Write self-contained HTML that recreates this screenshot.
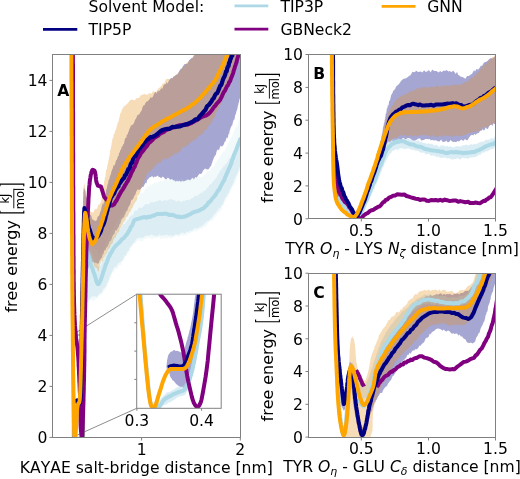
<!DOCTYPE html>
<html><head><meta charset="utf-8"><style>
html,body{margin:0;padding:0;background:#fff;overflow:hidden}
svg{display:block}
text{font-family:"DejaVu Sans","Liberation Sans",sans-serif;font-kerning:none;font-feature-settings:"kern" 0}
</style></head><body>
<svg width="520" height="479" viewBox="0 0 520 479">
<defs>
<clipPath id="cA"><rect x="52.5" y="54.5" width="188" height="383"/></clipPath>
<clipPath id="cB"><rect x="308.5" y="54.5" width="187" height="164.3"/></clipPath>
<clipPath id="cC"><rect x="308.5" y="273.2" width="187" height="164"/></clipPath>
<clipPath id="cI"><rect x="136.7" y="294.2" width="84.5" height="114.1"/></clipPath>
</defs>
<rect width="520" height="479" fill="#fff"/>
<g clip-path="url(#cA)">
<g stroke="#808080" stroke-width="0.9" fill="none">
<rect x="72.3" y="335" width="12.3" height="102.3"/>
<line x1="136.7" y1="294.2" x2="72.3" y2="335"/>
<line x1="136.7" y1="408.3" x2="72.3" y2="437.3"/>
</g>
<polygon points="80.0,329.8 80.0,329.0 80.1,328.9 80.1,326.2 80.1,325.1 80.2,324.1 80.2,321.6 80.2,321.4 80.2,320.5 80.3,319.8 80.3,316.3 80.3,315.8 80.4,313.8 80.4,314.9 80.4,313.3 80.5,309.9 80.5,311.7 80.5,310.3 80.6,308.1 80.6,306.7 80.6,304.0 80.7,302.3 80.7,302.7 80.7,299.9 80.7,299.1 80.8,298.0 80.8,296.0 80.8,296.2 80.9,294.8 80.9,294.8 80.9,292.6 81.0,291.7 81.0,290.1 81.0,289.4 81.1,287.5 81.1,285.7 81.1,286.8 81.2,285.5 81.2,283.8 81.2,282.2 81.2,279.7 81.3,278.2 81.3,277.1 81.3,275.2 81.4,276.2 81.4,273.8 81.4,274.0 81.5,271.3 81.5,271.9 81.5,270.4 81.5,266.5 81.6,265.9 81.6,267.0 81.6,264.4 81.7,264.8 81.7,261.7 81.7,259.5 81.8,260.0 81.8,259.3 81.8,256.5 81.8,254.7 81.9,254.3 81.9,255.1 81.9,253.2 82.0,250.0 82.0,249.2 82.0,247.4 82.1,246.0 82.1,247.1 82.1,243.8 82.1,243.8 82.2,242.1 82.2,240.0 82.2,240.5 82.2,237.3 82.3,237.6 82.3,234.7 82.3,234.4 82.4,232.4 82.4,231.3 82.4,232.3 82.4,230.5 82.5,227.7 82.5,228.3 82.5,224.9 82.5,224.2 82.6,224.5 82.6,222.5 82.6,219.6 82.6,221.2 82.6,217.4 82.7,216.3 82.7,216.7 82.7,214.1 82.7,212.7 82.8,210.8 82.8,209.6 82.8,210.0 82.9,207.7 82.9,207.6 82.9,205.6 83.0,204.7 83.0,205.0 83.0,202.3 83.0,201.4 83.1,201.1 83.1,197.6 83.2,196.3 83.2,197.5 83.3,196.0 83.3,192.9 83.4,191.5 83.4,192.0 83.5,191.4 83.8,187.3 84.0,188.0 84.6,189.3 84.8,189.8 85.0,190.5 85.2,190.8 85.5,191.9 85.7,196.2 86.0,195.2 86.3,198.0 86.6,197.8 86.9,200.9 87.1,201.4 87.4,201.7 87.6,202.6 87.8,205.6 88.1,204.8 88.4,206.5 88.6,208.9 88.9,211.0 89.3,211.6 89.6,211.9 90.0,215.3 90.6,214.6 91.2,215.6 91.8,217.7 92.4,219.6 93.7,220.1 95.0,221.0 96.3,220.4 96.9,219.8 97.5,217.1 98.2,216.2 98.8,216.3 99.4,215.1 100.0,212.5 100.6,211.2 101.2,209.5 101.7,206.6 102.3,204.8 102.8,203.2 103.3,204.5 103.8,202.3 104.3,201.5 104.7,196.7 105.1,197.0 105.3,195.3 105.5,194.9 105.7,192.3 106.0,193.3 106.2,189.1 106.4,189.3 106.7,188.7 106.9,188.0 107.2,186.3 107.5,184.9 107.8,184.0 108.2,183.2 108.5,180.1 108.9,179.9 109.2,179.4 109.6,178.1 110.0,175.4 110.4,175.4 110.8,174.4 111.2,172.3 111.6,171.3 112.1,169.4 112.5,168.9 113.0,167.8 113.5,165.0 114.0,165.6 114.5,165.6 115.0,164.2 115.5,162.6 116.0,160.4 116.7,160.0 117.4,158.0 118.0,156.1 118.6,156.0 119.1,152.3 119.7,153.2 120.2,149.7 120.7,150.3 121.3,148.7 121.8,146.6 122.4,146.8 122.9,144.9 123.5,144.0 124.0,143.7 124.6,140.3 125.1,138.2 125.7,137.9 126.2,137.9 126.7,135.2 127.1,133.9 127.5,135.1 128.0,133.2 128.4,131.3 128.9,131.6 129.4,128.6 130.0,128.5 130.7,125.8 131.5,125.2 132.3,125.1 133.2,124.2 134.1,122.7 135.0,119.8 135.8,119.1 136.7,116.9 137.5,115.0 138.3,114.8 139.1,114.5 139.9,113.2 140.8,111.4 141.6,110.8 142.5,107.3 143.4,105.6 144.4,105.2 145.4,103.3 146.4,101.8 147.5,101.2 148.5,100.6 149.6,98.9 150.6,97.2 151.7,97.8 152.7,97.3 153.7,94.7 154.7,92.7 155.7,91.8 156.8,93.8 157.8,90.3 158.9,91.6 160.0,90.2 161.2,88.3 162.4,88.7 163.7,85.0 165.0,84.1 165.8,84.3 166.7,82.1 167.5,83.8 168.8,80.7 170.0,79.2 171.2,77.7 172.4,78.4 173.5,76.6 174.7,76.1 175.8,75.1 176.8,74.5 177.8,74.0 178.8,72.1 180.5,68.9 181.9,68.3 183.2,66.1 184.6,64.1 186.1,64.1 187.6,63.4 189.1,60.2 190.5,59.1 191.7,57.9 192.8,57.7 193.9,55.7 195.0,54.4 196.2,53.2 197.5,50.4 198.1,50.5 198.7,49.7 199.2,46.0 199.6,47.5 200.0,45.7 200.3,42.4 200.7,42.0 201.0,41.1 201.4,40.6 201.6,37.7 201.8,37.1 202.1,36.8 202.3,35.3 202.6,34.6 202.8,31.8 203.1,31.0 203.3,28.2 203.6,28.4 203.8,27.3 204.1,25.3 204.3,24.3 204.6,21.5 204.8,22.5 205.0,21.5 250.0,20.1 249.9,21.7 249.9,21.6 249.8,23.9 249.7,26.8 249.6,27.7 249.6,27.5 249.5,28.6 249.4,31.3 249.3,32.8 249.3,33.7 249.2,34.2 249.1,34.6 249.1,35.1 249.0,38.4 248.9,39.4 248.9,41.7 248.8,40.9 248.7,42.3 248.6,45.4 248.6,46.1 248.5,48.0 248.4,49.1 248.4,49.2 248.3,48.8 248.2,50.6 248.1,52.1 248.0,54.1 248.0,54.9 247.9,57.3 247.8,56.8 247.7,58.9 247.6,61.6 247.6,60.6 247.5,61.2 247.4,65.5 247.3,66.1 247.2,68.0 247.1,69.3 247.0,69.4 246.9,70.8 246.8,70.2 246.7,71.9 246.6,72.3 246.4,73.7 246.3,75.0 246.2,76.3 246.1,77.4 246.0,78.8 245.8,82.3 245.5,83.3 245.3,84.0 245.1,84.6 244.9,85.9 244.6,87.9 244.1,90.2 243.6,90.6 243.1,92.5 242.3,92.8 241.5,95.6 241.0,94.8 240.5,97.4 240.0,98.1 239.6,99.0 239.3,100.3 238.9,102.4 238.5,103.2 238.2,105.1 237.8,106.1 237.5,108.4 237.1,109.4 236.8,110.4 236.4,111.5 236.0,113.2 235.6,115.1 235.2,114.6 234.8,117.6 234.4,119.8 234.0,119.4 233.5,120.3 233.1,121.7 232.6,123.4 232.1,126.1 231.6,125.6 231.1,127.0 230.6,127.8 230.1,130.1 229.6,130.5 229.1,134.5 228.6,133.6 228.0,136.8 227.4,138.3 226.7,137.4 226.0,139.4 225.3,141.8 224.6,141.7 223.9,144.3 222.8,145.7 221.8,146.8 220.7,145.4 219.7,147.9 218.9,150.4 218.0,149.2 217.4,150.1 216.7,151.1 215.8,155.1 214.9,155.7 214.0,157.6 213.5,158.7 213.1,160.0 212.6,160.7 212.2,163.0 211.7,163.5 211.2,165.8 210.0,167.1 208.6,169.2 207.0,169.4 205.1,168.6 203.1,170.4 201.9,173.2 200.7,174.1 199.4,173.8 198.1,175.6 196.7,177.8 195.3,176.9 194.0,179.4 192.6,177.8 191.3,179.0 190.0,180.5 188.7,179.8 187.4,179.8 186.1,180.5 184.8,180.9 183.5,181.4 182.2,180.8 180.9,182.0 179.6,180.7 178.3,181.5 177.0,180.8 175.7,181.8 174.4,180.4 173.1,180.2 171.8,179.0 170.5,179.8 169.2,178.8 167.9,177.6 166.5,179.2 165.2,179.0 163.9,177.4 162.6,176.6 161.3,178.3 160.0,177.3 158.6,176.7 157.3,175.5 156.0,177.0 154.7,176.4 153.4,177.8 152.1,175.9 150.9,177.0 149.8,177.3 148.6,178.5 147.9,179.8 147.2,179.6 146.4,183.6 145.8,182.7 145.1,183.4 144.4,184.8 143.4,187.0 142.5,186.7 140.7,188.9 139.1,190.0 137.7,189.3 136.3,191.6 135.2,195.0 134.2,196.0 133.3,198.4 132.8,199.4 132.2,199.4 131.5,200.0 130.9,201.5 130.2,204.7 129.5,205.0 129.0,206.4 128.4,206.9 127.9,208.5 127.3,210.7 126.6,211.4 126.0,211.3 125.4,214.0 124.8,214.8 124.3,216.3 123.7,218.1 123.0,217.3 122.3,218.7 121.7,219.0 121.0,221.1 120.3,223.7 119.6,224.1 118.9,226.5 118.2,227.7 117.5,228.6 116.9,230.2 116.2,230.8 115.5,229.8 114.8,232.7 114.1,234.5 113.5,234.5 112.8,235.6 112.1,237.6 111.4,239.5 110.7,241.1 110.0,241.3 109.3,242.0 108.7,244.2 108.0,246.1 107.3,247.1 106.7,247.2 106.2,248.1 105.6,250.5 105.0,249.8 104.4,250.5 103.8,252.3 103.1,255.1 102.6,253.9 102.1,256.9 101.6,258.1 100.9,258.2 100.2,259.8 99.5,260.6 98.8,263.3 97.3,263.8 95.8,262.6 94.4,263.3 93.0,261.3 91.7,263.4 90.4,261.5 89.2,263.1 88.9,266.9 88.6,268.5 88.3,267.8 88.0,270.4 87.9,271.2 87.8,272.5 87.6,272.8 87.5,275.3 87.4,277.2 87.3,278.3 87.2,278.0 87.0,278.3 86.9,281.0 86.8,283.8 86.8,285.0 86.7,285.1 86.6,284.5 86.5,285.6 86.4,287.6 86.4,289.2 86.3,291.8 86.2,291.4 86.1,291.8 86.0,296.0 85.9,296.7 85.9,296.1 85.8,297.9 85.7,300.9 85.7,299.6 85.6,303.4 85.5,303.1 85.5,305.8 85.4,305.5 85.3,306.1 85.3,307.0 85.2,309.0 85.1,308.9 85.0,312.0 85.0,312.3 84.9,313.3 84.8,313.8 84.8,317.1 84.7,316.7 84.6,319.1 84.6,318.9 84.5,322.3 84.4,322.3 84.3,323.6 84.3,324.2 84.2,326.4 84.1,327.3 84.1,329.8 84.0,328.5 83.9,331.2 83.9,333.4 83.8,333.6 83.7,334.4 83.7,335.2 83.6,336.0 83.5,339.0 83.5,340.2 83.4,340.4 83.3,341.6 83.2,343.8 83.2,346.0 83.1,347.1 83.0,347.6 83.0,346.5 82.9,348.9 82.8,350.4 82.8,352.1 82.7,352.8 82.6,354.0 82.6,356.6 82.5,355.8 82.4,356.7 82.4,360.0 82.3,359.6 82.2,362.3 82.2,362.6 82.1,363.3 82.0,365.4 82.0,365.7 81.9,369.7 81.8,371.0 81.8,369.4 81.7,372.0 81.6,374.5 81.6,373.0 81.5,374.1 81.4,378.0 81.4,377.8 81.3,378.8 81.2,381.2 81.2,380.4 81.1,384.0 81.0,382.8 81.0,386.8 80.9,385.6 80.8,387.7 80.8,388.0 80.7,390.9 80.7,391.8 80.6,393.2 80.5,394.7 80.5,396.3 80.4,395.8 80.3,397.4 80.3,397.5 80.2,399.1 80.1,402.1 80.1,403.3 80.0,403.9" fill="#000080" fill-opacity="0.35" stroke="none"/>
<polygon points="85.0,259.2 85.2,259.0 85.4,257.4 85.7,256.4 85.9,252.7 86.1,251.3 86.3,249.6 86.6,248.3 86.9,248.4 87.4,245.2 88.0,245.1 89.5,244.0 90.4,245.0 91.4,246.2 92.3,248.5 93.3,248.8 95.0,248.4 96.4,250.2 97.6,250.6 98.8,253.4 100.0,253.0 101.2,252.0 102.4,250.6 103.7,248.3 104.3,247.7 105.0,245.9 105.7,242.6 106.4,242.9 106.9,240.5 107.3,240.1 107.8,238.2 108.3,236.4 108.9,234.9 109.4,233.7 110.0,232.0 110.7,230.1 111.3,231.0 112.1,229.7 112.8,229.1 113.6,226.9 114.4,225.2 115.3,224.5 116.2,221.3 117.1,221.8 118.0,219.8 118.9,217.7 119.9,216.5 120.8,216.3 121.8,214.2 122.6,213.9 123.3,213.4 124.1,211.7 124.9,209.9 125.7,210.1 126.5,208.2 127.4,207.2 128.2,206.1 129.0,205.7 129.8,203.8 130.6,204.7 131.4,204.7 132.4,201.8 133.3,201.8 134.3,201.4 135.5,197.3 136.7,196.3 137.7,197.5 138.8,196.6 139.7,195.1 140.7,192.7 141.6,192.6 142.6,193.2 143.4,192.3 144.3,191.1 145.8,187.4 146.6,188.6 147.5,186.2 148.8,186.5 150.0,183.8 151.2,186.0 152.3,184.3 153.5,184.2 154.9,182.1 156.4,182.9 157.8,182.3 159.3,182.0 160.8,180.8 162.3,181.6 163.8,180.1 165.2,179.6 166.7,178.9 168.1,180.5 169.5,178.6 170.9,178.8 172.3,178.4 173.7,180.3 175.0,180.1 176.4,180.1 177.8,178.5 179.2,179.9 180.6,179.6 182.0,178.7 183.4,178.4 184.9,181.4 186.3,178.5 187.8,178.9 189.2,178.6 190.7,179.5 192.2,177.6 193.7,178.6 195.1,178.0 196.5,179.2 197.7,176.2 199.0,176.8 200.2,177.0 201.7,177.8 203.2,175.7 204.4,174.7 205.6,174.5 206.7,172.3 207.8,170.6 208.9,171.0 210.0,171.3 211.1,169.6 212.1,167.0 213.1,167.1 214.1,166.4 215.1,163.2 216.0,163.0 217.0,160.9 218.0,159.2 219.0,157.9 220.0,156.3 221.0,155.3 222.0,152.9 222.7,153.0 223.3,151.0 224.0,152.2 224.7,150.5 225.3,147.5 226.0,148.9 226.7,145.8 227.4,145.4 228.0,144.4 228.7,142.3 229.4,140.8 230.1,139.9 230.8,137.6 231.5,138.5 232.1,134.7 232.8,135.7 233.4,132.4 234.0,131.4 234.5,130.5 235.1,128.1 235.6,127.3 236.1,126.9 236.6,126.0 237.1,126.3 237.6,125.6 238.1,121.4 238.5,121.8 239.0,119.3 239.5,120.2 240.0,117.4 240.4,118.1 240.8,115.8 241.2,113.3 241.6,111.8 242.1,111.2 242.5,111.9 242.9,108.3 243.4,108.1 243.8,106.5 244.1,105.2 244.5,105.5 244.9,102.4 245.5,102.4 246.0,100.5 246.0,151.7 245.5,155.1 245.0,155.7 244.5,156.3 244.0,159.0 243.5,159.8 243.1,160.6 242.6,160.7 242.2,164.6 241.8,164.4 241.3,166.9 240.9,167.1 240.4,169.8 240.0,170.2 239.6,171.6 239.1,173.2 238.7,171.8 238.2,172.5 237.8,176.6 237.3,175.9 236.8,177.3 236.4,178.3 235.8,181.0 235.3,182.3 234.8,183.6 234.3,185.0 233.7,183.9 233.1,187.6 232.5,185.6 231.9,189.0 231.4,190.2 230.8,189.9 230.3,193.4 229.7,192.3 229.2,194.2 228.6,195.3 228.0,197.4 227.3,197.6 226.7,197.4 226.1,200.4 225.5,201.0 224.8,201.4 224.2,203.1 223.5,205.9 222.8,204.7 222.1,208.6 221.4,209.3 220.7,210.5 220.0,212.0 219.3,211.3 218.5,213.6 217.8,212.1 217.0,214.5 216.3,216.7 215.5,216.9 214.5,216.0 213.5,219.6 212.5,221.0 211.5,220.6 210.4,220.9 209.3,222.4 208.2,222.2 207.2,224.8 206.0,226.0 204.9,227.7 203.7,226.7 202.6,228.5 201.3,229.2 200.1,228.5 198.8,230.6 197.6,229.6 196.2,232.0 194.8,230.7 193.5,231.5 192.1,231.7 190.7,233.1 189.4,233.3 188.0,233.4 186.7,235.5 185.5,234.6 184.2,235.5 183.0,235.5 181.8,235.2 180.4,235.2 179.0,237.3 177.7,236.0 176.4,235.9 175.2,236.6 174.0,237.0 172.2,237.6 170.5,239.2 169.2,237.1 168.0,238.3 166.7,239.3 165.3,237.4 163.8,238.9 162.4,238.1 160.9,239.4 159.4,237.4 157.9,237.3 156.4,238.7 155.0,237.6 153.6,238.3 151.8,238.9 150.0,237.8 148.8,237.9 147.5,237.5 145.8,239.3 144.3,238.5 142.6,241.3 140.7,240.9 138.8,240.2 136.7,241.2 135.5,244.1 134.3,243.1 133.6,244.0 132.8,244.8 132.1,245.5 131.4,247.1 130.7,248.5 130.0,251.4 129.4,250.4 128.7,252.4 128.1,254.7 127.4,253.7 126.7,253.9 126.1,256.1 125.4,256.7 124.7,258.5 124.0,260.1 123.3,259.8 122.5,261.3 121.8,262.2 121.0,265.3 120.2,265.1 119.4,265.3 118.4,266.4 117.3,269.0 116.4,269.1 115.4,267.8 114.4,270.9 113.4,272.7 112.7,272.2 112.0,273.3 111.3,277.5 110.8,278.5 110.2,277.7 109.7,279.7 109.2,279.7 108.7,282.5 108.1,283.3 107.6,284.6 107.1,285.8 106.4,287.4 105.7,289.2 105.0,289.9 104.3,289.7 103.6,292.1 102.9,291.8 101.8,295.0 100.7,294.0 99.7,295.8 98.7,296.1 97.7,299.2 96.7,297.7 94.9,299.9 93.1,301.3 91.5,299.6 90.0,300.8 89.3,301.0 88.5,303.1 87.8,305.7 87.1,304.6 85.9,306.4 85.4,306.6 85.0,305.3 84.9,302.5 84.9,303.1 84.8,302.4 84.8,300.3 84.7,298.5 84.7,299.0 84.6,295.8 84.7,296.5 84.7,292.8 84.7,291.2 84.7,290.7 84.7,288.8 84.7,289.3 84.7,286.5 84.7,286.9 84.7,285.3 84.7,282.8 84.7,283.2 84.7,282.5 84.7,279.5 84.7,278.6 84.8,279.1 84.8,275.7 84.8,274.2 84.8,275.0 84.8,272.6 84.8,272.3 84.9,269.8 84.9,269.7 84.9,268.7 84.9,265.8 84.9,264.5 84.9,265.4 85.0,263.1 85.0,262.0 85.0,258.7" fill="#add8e6" fill-opacity="0.16" stroke="none"/>
<polygon points="86.0,261.1 86.3,261.1 86.7,259.6 87.0,259.0 87.4,256.0 87.7,254.7 88.1,254.6 88.5,253.2 88.8,251.1 90.0,250.4 91.2,251.3 91.6,253.3 92.0,252.9 92.4,254.3 92.9,257.3 93.3,257.3 93.7,258.4 94.4,261.2 95.0,262.3 96.2,263.0 97.5,265.5 98.8,266.6 100.0,265.2 101.2,265.0 101.8,262.5 102.4,261.9 103.0,259.7 103.7,258.5 104.3,258.8 105.0,255.8 105.5,256.0 105.9,253.4 106.4,252.6 106.9,251.9 107.3,250.0 107.8,247.3 108.3,247.0 108.9,245.7 109.4,243.2 110.0,241.6 110.7,242.2 111.3,240.0 112.1,238.1 112.8,237.6 113.6,235.9 114.4,236.2 115.3,234.5 116.2,232.5 117.1,233.1 118.0,230.3 118.9,229.8 119.9,228.1 120.8,228.7 121.8,226.1 122.6,226.1 123.3,224.2 124.1,224.2 124.9,223.7 125.7,222.4 126.5,221.2 127.4,220.3 128.2,219.2 129.0,218.6 129.8,216.5 130.6,216.5 131.4,214.9 132.4,215.4 133.3,214.6 134.3,211.5 135.5,210.5 136.7,210.8 137.7,209.7 138.8,207.5 140.7,207.9 142.6,207.4 144.3,205.1 145.8,204.1 147.5,203.9 148.8,204.4 150.0,202.4 151.2,202.2 152.3,201.7 153.5,202.4 154.9,201.8 156.4,200.9 157.8,201.0 159.3,199.9 160.8,200.3 162.3,201.6 163.8,200.5 165.2,199.6 166.7,201.0 168.1,199.7 169.4,199.5 170.8,199.1 172.2,199.6 173.5,199.9 174.9,200.2 176.3,201.9 177.7,200.6 179.0,200.8 180.5,201.5 181.9,202.1 183.4,200.5 184.6,201.2 185.8,199.9 187.0,200.0 188.2,199.7 189.5,199.9 190.8,198.9 192.1,197.7 193.4,197.9 194.6,196.1 195.9,195.4 197.1,196.2 198.4,194.5 199.4,194.4 200.5,192.6 201.5,193.4 202.6,192.1 203.7,190.4 204.7,191.3 205.8,189.4 207.1,188.0 208.3,186.7 209.5,185.1 210.6,184.1 211.4,184.4 212.2,182.1 213.0,181.4 213.9,180.7 214.7,179.8 215.6,178.3 216.4,178.0 217.3,175.5 218.1,174.5 218.8,173.6 219.4,171.9 220.1,171.1 220.7,169.9 221.4,170.3 222.1,167.9 222.8,168.1 223.5,166.0 224.3,166.0 225.1,165.0 225.9,163.2 226.7,163.5 227.6,161.7 228.4,160.4 229.3,158.0 230.2,157.8 231.0,156.4 231.8,155.8 232.6,155.8 233.4,154.6 234.3,151.4 235.1,151.7 236.0,151.0 236.8,148.7 237.6,146.2 238.0,146.9 238.4,144.7 239.1,143.8 239.5,142.2 240.0,140.8 240.5,139.8 241.0,136.5 241.5,137.0 242.1,134.3 242.7,132.5 243.2,131.6 243.8,130.7 244.3,128.0 244.9,127.7 245.4,127.1 246.0,125.0 246.0,150.4 245.5,150.7 245.0,153.9 244.5,154.0 244.0,154.6 243.5,158.2 243.1,157.8 242.6,160.7 242.2,161.8 241.8,161.8 241.3,163.0 240.9,164.6 240.4,165.4 240.0,166.6 239.4,168.1 238.8,169.7 238.2,171.3 237.8,172.0 237.3,174.3 236.8,174.4 236.4,175.5 235.8,175.8 235.3,179.0 234.8,178.4 234.3,179.8 233.7,182.6 233.1,183.1 232.5,184.8 231.9,186.2 231.4,187.0 230.8,187.0 230.3,189.2 229.7,189.0 229.2,191.8 228.6,192.8 228.0,194.5 227.3,193.7 226.7,197.1 226.1,196.6 225.5,197.4 224.8,199.0 224.2,200.5 223.5,202.3 222.8,204.3 222.1,205.1 221.4,204.9 220.7,207.0 220.0,207.9 219.3,207.7 218.5,209.4 217.8,210.5 217.0,210.5 216.3,212.4 215.5,213.5 214.7,213.6 213.9,214.8 213.1,216.6 212.3,217.0 211.5,218.0 210.4,219.1 209.3,220.6 208.2,221.1 207.2,220.9 206.0,223.3 204.9,222.3 203.7,225.0 202.6,224.9 201.3,226.9 200.1,226.6 198.8,227.4 197.6,228.6 196.2,228.2 194.8,228.2 193.5,228.8 192.1,231.2 190.7,230.3 189.4,231.3 188.0,232.4 186.7,231.1 185.5,233.0 184.2,233.6 183.0,232.4 181.8,232.4 180.4,233.5 179.0,234.7 177.7,234.8 176.4,234.3 175.2,234.5 174.0,235.5 172.2,236.2 170.5,235.0 169.2,236.6 168.0,234.9 166.7,234.7 165.3,235.6 163.8,235.3 162.4,235.2 160.9,235.9 159.4,234.2 157.9,236.2 156.4,236.1 155.0,235.8 153.6,235.8 151.8,234.5 150.0,235.2 148.8,235.7 147.5,235.7 145.8,235.6 144.3,236.5 142.6,238.0 140.7,237.8 138.8,237.5 136.7,238.7 135.5,240.2 134.3,242.3 133.6,243.0 132.8,244.4 132.1,244.6 131.4,245.9 130.7,247.6 130.0,246.7 129.4,247.7 128.7,251.0 128.1,250.8 127.4,251.9 126.7,252.2 126.1,255.1 125.4,256.1 124.7,255.1 124.0,256.8 123.3,258.9 122.5,260.5 121.8,261.3 120.6,261.5 119.4,263.1 118.4,263.0 117.3,264.7 116.4,266.3 115.4,267.4 114.4,266.7 113.4,268.9 112.7,270.0 112.0,272.8 111.3,272.8 110.8,275.3 110.2,275.3 109.7,276.4 109.2,278.0 108.7,280.7 108.1,280.2 107.6,282.2 107.1,283.3 106.4,285.0 105.7,287.1 105.0,287.6 104.3,287.6 103.6,288.7 102.9,289.7 101.8,292.7 100.7,292.9 99.7,293.2 98.7,295.1 97.7,295.8 96.7,297.1 94.8,296.2 93.1,296.5 91.4,296.5 90.0,299.1 88.7,299.4 87.6,302.7 86.7,303.2 86.3,300.9 86.0,300.3 86.0,299.8 85.9,297.6 85.9,295.9 85.8,295.1 85.8,292.7 85.7,292.2 85.7,291.1 85.7,289.3 85.7,288.7 85.7,288.4 85.7,285.5 85.7,285.6 85.7,284.5 85.7,283.2 85.8,280.5 85.8,279.3 85.8,278.1 85.8,277.8 85.8,275.7 85.8,274.2 85.9,274.8 85.9,273.1 85.9,271.5 85.9,270.7 85.9,267.3 85.9,268.3 86.0,265.1 86.0,265.2 86.0,262.1 86.0,263.1" fill="#add8e6" fill-opacity="0.32" stroke="none"/>
<polygon points="81.2,381.5 81.2,377.1 81.2,378.1 81.3,374.9 81.3,376.2 81.3,371.7 81.3,373.1 81.3,371.2 81.3,370.5 81.4,369.6 81.4,365.9 81.4,365.0 81.4,364.8 81.4,362.2 81.4,360.8 81.5,359.4 81.5,360.2 81.5,358.9 81.5,357.4 81.5,354.2 81.5,355.2 81.6,352.5 81.6,350.3 81.6,349.8 81.6,348.3 81.6,346.0 81.6,346.3 81.7,344.4 81.7,343.8 81.7,343.8 81.7,341.6 81.7,339.6 81.7,339.9 81.8,339.0 81.8,336.2 81.8,336.4 81.8,332.2 81.8,331.4 81.9,330.2 81.9,331.5 81.9,329.4 81.9,328.3 81.9,325.7 82.0,325.1 82.0,325.1 82.0,321.4 82.0,320.2 82.1,318.7 82.1,318.9 82.1,318.8 82.1,316.7 82.1,315.0 82.2,314.0 82.2,311.8 82.2,313.0 82.2,309.9 82.3,308.2 82.3,307.2 82.3,307.6 82.3,304.8 82.4,305.4 82.4,302.3 82.4,301.4 82.4,298.9 82.4,300.3 82.5,298.7 82.5,296.4 82.5,293.9 82.5,293.8 82.6,292.2 82.6,292.4 82.6,291.4 82.6,289.6 82.6,286.9 82.7,284.9 82.7,286.4 82.7,285.4 82.7,281.7 82.7,281.6 82.7,280.3 82.8,280.7 82.8,276.5 82.8,275.3 82.8,276.6 82.8,274.5 82.9,272.9 82.9,272.6 82.9,270.8 82.9,269.9 82.9,267.3 83.0,265.5 83.0,264.0 83.0,263.8 83.0,263.5 83.0,261.4 83.0,260.0 83.1,259.6 83.1,258.6 83.1,257.0 83.1,254.8 83.1,255.2 83.1,253.9 83.2,252.9 83.2,251.6 83.2,247.5 83.2,248.3 83.2,246.0 83.2,244.8 83.3,243.9 83.3,241.4 83.3,240.5 83.3,241.6 83.3,238.2 83.3,238.9 83.3,236.9 83.3,234.5 83.3,233.3 83.4,233.0 83.4,232.1 83.4,229.8 83.4,227.7 83.4,226.8 83.4,227.8 83.4,226.2 83.4,223.0 83.4,224.1 83.4,222.0 83.4,220.0 83.4,220.6 83.4,216.9 83.5,215.6 83.5,215.2 83.5,215.2 83.5,213.4 83.5,212.0 83.5,212.1 83.5,209.3 83.5,209.3 83.5,205.5 83.5,206.7 83.5,203.4 83.5,203.7 83.5,203.0 83.6,201.1 83.6,199.6 83.6,198.2 83.6,197.6 83.6,195.1 83.6,193.3 83.7,193.0 83.7,191.5 83.7,188.9 83.7,188.8 83.8,187.3 83.8,184.9 84.0,185.0 84.1,183.6 84.5,183.2 84.8,186.4 85.0,188.4 85.2,189.0 85.5,189.7 85.8,190.9 86.0,192.0 86.2,193.8 86.4,197.5 86.6,195.9 86.8,200.1 87.0,200.8 87.3,202.5 87.6,202.0 88.0,205.5 88.4,205.3 88.9,208.1 89.8,210.6 90.9,211.9 92.0,212.1 93.2,213.1 94.5,210.1 95.8,208.4 97.0,209.2 98.2,205.1 99.3,204.7 100.4,202.6 100.9,202.6 101.4,199.6 101.7,198.9 102.0,197.3 102.2,195.9 102.4,194.6 102.6,193.3 102.8,192.5 102.9,190.7 103.1,189.4 103.3,189.7 103.4,188.5 103.6,184.9 103.8,185.6 104.1,181.0 104.3,180.5 104.5,181.0 104.8,177.3 105.0,177.6 105.3,177.4 105.5,175.0 105.8,173.3 106.1,170.2 106.5,169.9 106.7,168.7 107.0,168.6 107.2,166.1 107.4,166.3 107.7,163.8 107.9,163.3 108.2,162.5 108.4,159.4 108.7,160.7 108.9,157.8 109.1,156.7 109.4,157.1 109.6,154.6 109.9,153.2 110.1,151.0 110.3,149.8 110.6,150.2 110.8,148.2 111.0,147.4 111.3,146.2 111.5,144.9 111.7,142.6 112.0,143.1 112.2,140.5 112.6,137.9 113.0,138.5 113.4,137.2 113.8,133.3 114.3,134.6 114.7,132.7 115.2,130.2 115.7,129.9 116.2,129.5 116.7,125.6 117.1,125.9 117.5,123.2 117.8,121.6 118.2,122.7 118.6,121.3 119.0,118.7 119.5,117.6 119.9,114.9 120.3,113.5 120.8,112.8 121.2,112.2 121.7,110.6 122.4,108.5 123.1,107.7 123.9,105.9 124.6,106.2 126.2,104.7 128.0,102.9 130.0,100.2 132.2,99.5 134.5,100.6 136.7,97.9 138.8,98.0 140.9,95.3 142.9,94.6 145.0,94.1 147.1,94.9 149.3,93.0 151.4,93.7 153.4,91.1 155.2,92.2 156.9,91.2 158.4,88.6 160.0,87.2 160.8,86.3 161.5,86.1 162.3,84.0 163.0,83.0 163.7,83.8 164.5,83.1 166.0,78.9 167.7,79.1 169.5,79.1 171.2,79.6 172.9,77.6 174.4,76.3 175.9,75.5 177.4,74.0 178.8,72.2 180.3,70.4 181.7,69.6 183.1,65.7 184.6,66.6 186.1,63.3 187.6,62.3 189.1,60.9 190.5,59.9 191.7,58.7 192.8,57.4 193.8,55.1 194.9,53.6 196.1,52.8 197.4,52.1 198.1,49.2 198.7,46.9 199.1,48.4 199.6,47.4 200.0,46.1 200.3,44.0 200.7,41.9 201.0,39.3 201.4,40.6 201.6,37.9 201.9,35.6 202.1,36.0 202.3,32.9 202.6,32.8 202.8,32.3 203.1,31.5 203.3,28.7 203.6,26.7 203.8,25.8 204.1,25.9 204.3,22.3 204.6,21.3 204.8,20.7 205.0,21.4 246.0,19.0 245.8,20.3 245.6,21.8 245.5,24.1 245.3,26.4 245.1,26.3 244.9,27.5 244.7,27.8 244.5,30.3 244.3,31.2 244.0,32.0 243.8,33.3 243.6,35.7 243.4,37.4 243.2,37.5 243.0,39.3 242.8,42.2 242.5,41.5 242.2,42.7 242.0,44.0 241.8,45.5 241.5,46.7 241.2,50.1 241.0,49.6 240.8,50.7 240.4,54.2 240.0,54.3 239.6,56.0 239.3,56.5 238.6,59.1 237.8,62.5 237.4,63.9 237.0,65.5 236.5,66.5 236.1,67.6 235.6,69.2 235.1,69.5 234.6,72.7 234.1,74.4 233.5,75.9 233.0,75.7 232.4,76.2 231.8,78.0 231.2,78.9 230.6,81.9 230.0,84.9 229.3,84.0 228.7,87.5 228.0,87.8 227.3,91.1 226.6,90.9 226.1,93.5 225.6,92.2 225.1,93.0 224.5,96.5 224.0,98.1 223.5,98.3 222.8,98.8 222.0,100.2 221.2,103.8 220.5,105.1 219.8,104.2 219.0,107.8 218.2,108.4 217.5,111.5 216.8,110.9 216.0,112.4 215.3,114.9 214.6,117.4 213.9,118.2 213.2,117.8 212.5,120.3 211.8,122.5 210.9,122.9 210.0,124.8 208.9,125.2 207.8,127.0 206.6,129.2 205.4,130.5 204.1,130.7 202.8,134.0 201.8,133.5 200.9,134.2 200.0,136.3 199.0,134.4 198.0,137.8 197.1,137.2 196.0,139.9 195.0,139.6 194.0,140.3 192.9,139.9 191.8,143.0 190.8,141.5 189.7,144.9 188.7,143.0 187.6,146.4 186.6,145.6 185.5,147.7 184.5,147.0 183.4,146.7 182.4,147.5 181.3,148.6 180.3,151.9 179.2,150.9 178.1,152.4 177.1,152.1 176.0,154.9 175.0,152.5 174.0,154.8 172.9,156.0 171.9,155.5 170.3,156.9 168.7,158.3 167.2,158.0 165.6,160.5 164.6,158.4 163.5,159.4 162.5,159.5 161.4,161.3 160.3,163.2 159.3,162.2 158.2,163.6 157.0,163.6 155.9,165.3 154.9,167.6 153.8,166.1 152.8,169.0 151.8,168.8 150.9,170.9 150.0,171.9 149.2,172.6 148.5,172.0 147.7,172.7 147.1,174.0 146.5,175.2 145.9,176.7 145.3,178.7 144.7,179.2 144.2,180.5 143.6,184.0 143.1,182.6 142.5,185.8 142.0,186.6 141.5,186.4 141.0,187.5 140.5,191.3 140.0,192.0 139.6,193.8 139.1,194.2 138.6,196.1 138.1,194.5 137.5,196.1 136.9,200.0 136.3,200.8 135.7,201.8 135.2,201.7 134.6,203.5 134.0,203.4 133.4,205.5 132.7,207.5 132.0,208.1 131.4,208.9 130.7,211.3 130.0,211.9 129.3,212.7 128.6,214.0 128.0,215.7 127.3,216.8 126.7,216.9 126.0,217.1 125.4,219.7 124.7,221.7 124.1,220.2 123.5,222.9 122.9,222.1 122.2,226.0 121.6,224.5 121.0,227.4 120.4,227.8 119.7,228.4 119.1,230.8 118.5,232.2 117.9,232.5 117.2,232.9 116.6,234.5 116.0,235.7 115.4,237.8 114.7,237.3 114.1,239.0 113.4,239.2 112.7,242.6 112.1,244.0 111.4,244.1 110.8,244.8 110.1,247.3 109.5,248.3 108.9,249.3 108.2,248.6 107.5,251.3 106.7,252.7 106.0,254.3 105.4,255.0 104.7,256.4 104.1,257.4 103.3,258.2 102.5,261.9 101.8,260.2 101.1,261.6 100.5,263.3 100.0,264.4 99.4,265.3 99.2,268.0 99.1,268.4 98.8,271.2 98.3,271.4 97.8,270.8 97.2,268.8 96.5,268.1 95.7,267.5 94.8,267.1 93.9,265.2 93.0,261.2 92.6,261.9 92.2,259.5 91.8,257.1 91.5,255.8 90.7,254.6 90.0,253.1 89.2,253.1 88.4,255.8 88.1,258.3 87.7,258.8 87.5,258.5 87.2,259.2 87.0,260.5 86.9,263.2 86.7,265.4 86.6,265.9 86.4,265.8 86.3,268.3 86.2,268.9 86.1,270.1 86.0,274.0 85.9,274.1 85.9,273.7 85.8,275.5 85.7,277.1 85.6,279.6 85.6,279.3 85.5,282.5 85.4,284.5 85.3,285.1 85.2,284.6 85.2,288.6 85.1,289.0 85.0,288.4 84.9,290.1 84.9,291.2 84.8,292.5 84.7,294.2 84.6,297.4 84.6,298.1 84.5,299.8 84.4,301.6 84.4,301.4 84.3,302.0 84.2,303.5 84.2,305.5 84.1,306.3 84.1,307.0 84.0,308.3 83.9,309.1 83.9,310.1 83.8,311.0 83.7,313.8 83.7,315.5 83.6,316.3 83.5,318.7 83.5,318.9 83.4,321.6 83.4,321.4 83.3,323.8 83.3,322.3 83.2,325.8 83.2,327.0 83.1,326.2 83.1,328.7 83.0,329.4 82.9,330.2 82.9,331.7 82.8,334.0 82.8,336.1 82.7,337.5 82.7,339.3 82.6,337.6 82.6,339.7 82.5,343.1 82.5,343.4 82.5,343.9 82.4,344.9 82.4,347.5 82.3,347.0 82.3,348.4 82.2,349.4 82.2,350.8 82.1,353.1 82.1,353.7 82.1,353.6 82.0,356.8 82.0,358.5 81.9,360.0 81.9,359.1 81.9,362.6 81.8,363.3 81.8,362.9 81.7,365.5 81.7,364.8 81.6,366.6 81.6,367.7 81.6,368.0 81.5,371.2 81.5,371.3 81.4,373.9 81.4,374.4 81.3,375.9 81.3,377.1 81.2,378.6 81.2,379.6" fill="#e68c14" fill-opacity="0.3" stroke="none"/>
<polyline points="84.5,238.5 84.8,239.3 85.1,241.5 85.6,245.5 86.0,246.1 86.3,247.5 86.7,249.9 87.2,251.2 87.7,253.7 88.2,254.8 88.8,257.6 89.3,258.8 89.9,260.9 90.4,263.1 90.9,264.5 91.5,266.5 92.0,267.8 92.6,268.6 93.1,271.2 93.6,272.3 94.6,274.8 95.4,277.3 96.2,280.7 96.9,282.5 97.7,284.0 98.5,283.9 99.2,283.3 100.0,281.3 100.9,279.5 101.8,276.9 102.3,275.0 102.8,274.2 103.3,271.8 103.8,270.6 104.4,269.1 105.0,267.0 105.7,264.5 106.4,263.5 107.2,261.4 108.0,258.9 108.8,256.8 109.7,255.5 110.5,253.3 111.3,252.7 112.8,249.7 114.3,247.6 115.9,245.6 117.6,244.0 119.6,242.3 121.8,239.6 122.9,238.6 124.0,237.8 126.0,235.3 126.9,234.3 127.8,233.0 128.6,231.4 129.4,230.3 130.1,228.8 130.8,226.9 132.2,225.6 133.2,222.9 133.8,221.3 134.7,219.8 136.4,219.3 139.2,218.6 141.0,217.8 142.7,217.5 144.6,217.0 146.5,217.8 148.3,216.7 150.0,216.9 151.5,216.2 153.1,215.7 154.6,215.3 156.1,214.5 157.5,213.9 158.9,214.0 161.7,213.9 164.3,213.8 166.7,213.7 169.1,214.9 171.7,214.7 174.6,215.6 176.1,216.4 177.6,216.9 179.1,216.5 180.6,217.2 183.4,216.8 185.8,216.2 187.9,215.2 190.0,214.4 192.2,212.9 194.7,211.7 197.3,211.2 200.0,210.1 201.3,209.1 202.6,208.8 204.0,207.8 205.3,206.4 206.7,205.4 208.1,202.9 209.5,202.0 210.8,200.7 211.9,199.1 213.0,197.6 214.6,196.3 215.8,194.4 216.8,192.6 218.0,190.5 219.3,189.4 220.7,186.4 222.1,183.7 222.8,182.4 223.5,181.0 224.3,180.1 225.0,177.7 225.8,176.0 226.6,174.0 227.4,172.5 228.2,170.3 229.0,168.5 229.8,167.0 230.6,165.1 231.4,163.0 231.9,160.6 232.4,159.5 233.0,158.6 233.5,156.2 234.0,155.0 234.5,153.9 235.3,151.8 236.0,150.3 236.7,148.5 237.5,146.3 238.2,144.4 238.9,142.6 239.5,141.2 240.1,139.5 241.0,138.2" fill="none" stroke="#add8e6" stroke-width="4.0" stroke-linejoin="round" stroke-linecap="butt" />
<polyline points="72.9,40.4 72.9,42.0 72.9,43.4 72.9,44.1 72.9,46.1 72.9,47.5 72.9,49.1 72.9,50.2 72.9,51.8 72.9,53.5 72.9,54.8 72.9,56.5 72.9,57.6 72.9,59.2 72.9,61.3 72.9,62.5 73.0,64.1 73.0,65.9 73.0,67.0 73.0,68.2 73.0,70.4 73.0,71.7 73.0,73.3 73.0,74.8 73.0,76.6 73.0,77.5 73.0,79.4 73.0,80.5 73.0,82.3 73.0,83.8 73.0,85.0 73.0,86.3 73.0,88.2 73.0,89.9 73.0,91.3 73.0,92.7 73.0,94.4 73.0,95.4 73.0,96.9 73.0,98.5 73.0,100.5 73.0,101.4 73.0,102.8 73.0,104.3 73.0,105.8 73.0,107.5 73.0,109.3 73.0,111.1 73.1,112.1 73.1,113.6 73.1,115.0 73.1,116.6 73.1,118.5 73.1,119.8 73.1,121.0 73.1,122.4 73.1,124.6 73.1,126.0 73.1,127.6 73.1,128.6 73.1,130.4 73.1,132.3 73.1,133.4 73.1,135.3 73.1,136.0 73.1,138.3 73.1,138.9 73.1,140.8 73.1,141.9 73.1,144.2 73.1,145.6 73.1,147.4 73.1,148.7 73.1,150.4 73.1,151.5 73.2,153.4 73.2,154.7 73.2,155.8 73.2,157.9 73.2,158.8 73.2,160.2 73.2,161.6 73.2,163.5 73.2,164.7 73.2,167.0 73.2,168.5 73.2,169.3 73.2,170.7 73.2,172.7 73.2,173.8 73.2,175.7 73.2,177.5 73.2,178.5 73.2,180.2 73.2,182.2 73.2,183.2 73.2,184.6 73.3,186.7 73.3,188.2 73.3,189.8 73.3,191.1 73.3,192.3 73.3,194.1 73.3,195.8 73.3,197.1 73.3,198.2 73.3,199.8 73.3,201.4 73.3,203.3 73.3,204.7 73.3,206.2 73.3,208.0 73.3,208.8 73.3,210.9 73.4,212.1 73.4,213.9 73.4,215.7 73.4,216.7 73.4,218.9 73.4,219.6 73.4,221.6 73.4,223.1 73.4,224.3 73.4,226.2 73.4,227.6 73.4,229.2 73.4,231.0 73.4,231.8 73.4,233.6 73.5,235.5 73.5,236.4 73.5,238.6 73.5,239.5 73.5,241.5 73.5,242.4 73.5,244.2 73.5,245.7 73.5,246.9 73.5,249.0 73.5,250.3 73.5,252.0 73.5,253.3 73.5,254.9 73.6,256.3 73.6,257.6 73.6,259.8 73.6,260.5 73.6,262.8 73.6,264.4 73.6,265.5 73.6,267.4 73.6,268.8 73.7,270.3 73.7,271.5 73.7,273.1 73.7,274.6 73.7,276.1 73.7,278.3 73.7,279.3 73.7,280.9 73.8,282.5 73.8,284.5 73.8,285.7 73.8,287.4 73.8,288.7 73.9,290.3 73.9,291.7 73.9,293.4 73.9,295.0 74.0,297.2 74.0,298.4 74.0,299.6 74.0,301.5 74.1,302.7 74.1,304.7 74.2,306.1 74.2,308.1 74.3,309.1 74.3,311.2 74.3,312.2 74.4,314.4 74.5,315.6 74.6,316.6 74.6,318.9 74.7,319.9 74.8,321.6 74.9,322.9 75.0,325.2 75.1,326.1 75.2,328.3 75.4,329.6 75.5,331.6 75.7,333.0 75.8,334.6 76.0,337.3 76.1,338.9 76.4,340.0 76.6,341.7 76.9,343.4 77.2,345.5 77.4,346.9 77.6,349.1 77.7,350.4 77.9,352.7 78.0,354.5 78.2,356.7 78.3,358.1 78.4,359.9 78.5,361.5 78.6,363.1 78.6,364.8 78.7,366.3 78.8,367.9 78.9,369.7 79.0,372.2 79.0,373.3 79.1,375.2 79.2,376.8 79.3,378.7 79.3,380.2 79.4,382.1 79.5,383.2 79.6,384.6 79.6,386.4 79.7,388.7 79.8,391.1 79.9,392.7 80.0,395.4 80.1,397.6 80.1,399.7 80.2,400.8 80.2,403.1 80.3,405.5 80.3,407.5 80.4,408.6 80.4,410.9 80.4,413.1 80.4,415.0 80.5,416.5 80.5,418.0 80.5,419.9 80.5,421.3 80.6,423.2 80.6,424.9 80.7,426.9 80.8,428.3 80.9,429.7 81.0,431.1 81.3,433.9 81.5,436.2 81.7,437.1 81.8,437.5 81.9,437.8 82.1,436.1 82.3,433.5 82.4,431.0 82.5,429.0 82.6,427.1 82.6,425.6 82.7,424.2 82.8,422.3 82.8,420.1 82.9,417.9 83.0,415.9 83.0,415.0 83.1,412.9 83.1,411.2 83.2,409.4 83.2,407.8 83.3,406.6 83.3,405.7 83.4,403.9 83.4,402.3 83.5,400.7 83.5,398.7 83.5,397.0 83.6,395.8 83.6,393.7 83.7,392.7 83.7,391.1 83.8,389.6 83.8,387.6 83.8,385.7 83.9,384.3 83.9,382.1 84.0,380.7 84.0,378.5 84.1,377.0 84.1,375.2 84.1,373.2 84.2,371.3 84.2,369.2 84.2,367.5 84.3,366.4 84.3,363.9 84.3,362.2 84.4,360.7 84.4,359.0 84.4,357.8 84.4,355.7 84.4,354.9 84.5,352.4 84.5,351.4 84.5,349.3 84.5,347.8 84.5,345.1 84.5,343.8 84.5,342.1 84.5,340.2 84.6,337.9 84.6,337.1 84.6,335.5 84.6,333.0 84.7,332.1 84.7,329.7 84.7,328.1 84.7,327.2 84.8,325.6 84.8,324.4 84.8,322.5 84.9,320.9 84.9,319.2 84.9,317.9 85.0,316.8 85.0,314.9 85.0,313.6 85.1,311.4 85.1,310.4 85.1,308.9 85.2,306.5 85.2,305.5 85.2,303.1 85.3,301.4 85.3,299.6 85.3,298.6 85.4,296.5 85.4,295.8 85.4,293.2 85.5,292.5 85.5,290.5 85.5,288.5 85.6,286.6 85.6,285.0 85.6,283.0 85.7,280.7 85.7,279.5 85.7,277.2 85.8,275.6 85.8,273.7 85.9,272.2 85.9,269.9 85.9,268.9 86.0,266.6 86.0,265.3 86.0,264.2 86.1,262.6 86.1,261.3 86.1,259.2 86.2,258.3 86.2,256.8 86.3,254.6 86.3,253.1 86.3,252.1 86.4,251.0 86.4,249.1 86.5,247.4 86.5,246.0 86.6,244.8 86.6,243.0 86.7,241.5 86.7,240.1 86.8,238.9 86.8,237.2 86.9,235.7 86.9,233.6 87.0,232.4 87.1,231.0 87.1,229.3 87.2,228.0 87.3,226.4 87.3,224.0 87.4,222.9 87.5,221.2 87.5,219.5 87.6,218.3 87.7,217.3 87.8,215.4 87.8,213.0 87.9,211.4 88.0,209.9 88.1,208.4 88.2,206.0 88.3,203.7 88.4,202.3 88.4,200.3 88.5,198.3 88.6,197.3 88.7,196.1 88.8,194.3 88.9,192.3 89.0,189.7 89.1,188.4 89.2,186.9 89.5,184.5 89.7,182.1 90.0,179.6 90.3,178.1 90.7,175.3 91.1,173.8 91.5,172.0 91.9,171.3 92.2,170.2 92.6,169.7 93.0,169.9 93.5,170.0 94.0,170.4 94.5,170.6 95.0,172.2 95.5,174.4 95.7,176.5 95.9,177.6 96.1,180.0 96.4,181.8 97.0,183.5 97.9,185.6 98.9,186.0 100.0,186.2 101.0,186.6 101.8,189.2 102.6,191.7 103.3,194.1 104.0,196.5 104.8,197.8 105.5,198.4 106.2,199.5 107.0,199.6 107.7,201.1 108.4,202.8 109.2,204.2 110.0,205.5 110.9,205.5 111.8,205.6 112.8,205.1 114.0,204.4 115.4,202.0 116.9,199.8 117.7,198.2 118.5,196.6 119.2,195.2 120.0,193.7 121.5,191.1 122.9,189.1 124.4,186.6 125.2,185.0 126.0,184.0 126.8,182.3 127.7,181.2 128.6,179.3 129.4,177.5 130.3,175.8 131.2,173.4 132.1,171.4 133.0,170.1 133.8,167.9 134.7,166.8 135.5,164.3 136.3,162.8 137.2,160.3 138.0,158.2 139.0,156.9 140.0,155.2 141.1,153.0 142.3,151.9 143.5,150.3 144.8,148.3 146.1,147.0 147.4,145.4 148.7,143.1 150.0,142.2 151.3,141.0 152.7,139.7 154.1,138.2 155.4,137.3 156.8,136.4 158.2,135.7 159.6,134.0 161.0,133.4 162.4,132.5 163.8,132.1 165.2,130.7 166.6,130.0 167.9,129.4 169.3,128.7 172.0,127.9 174.6,127.4 177.2,126.1 179.7,125.2 182.0,125.2 183.9,124.6 185.5,124.7 187.1,124.8 189.0,124.0 191.4,123.1 192.7,122.2 194.0,121.7 195.3,120.8 196.7,120.1 199.2,118.5 201.6,117.0 203.9,116.2 206.0,115.5 208.0,114.3 209.7,112.7 211.2,111.0 212.6,109.1 214.0,107.0 215.4,105.6 216.7,103.6 217.9,102.5 219.2,101.0 220.4,99.3 221.5,97.1 222.7,94.4 224.0,91.7 224.7,91.1 225.5,89.5 226.3,87.6 227.1,86.1 227.8,85.5 228.6,83.7 229.3,81.8 230.0,81.3 231.1,78.2 232.1,75.7 233.1,73.1 234.0,69.8 234.5,68.5 235.0,66.5 235.5,65.3 236.0,63.5 236.5,62.2 237.0,60.0 237.7,57.4 238.2,55.7 238.5,53.8 238.8,53.1 239.0,52.5 239.3,51.2 239.6,49.3 239.8,49.0 240.0,47.7" fill="none" stroke="#800080" stroke-width="4.0" stroke-linejoin="round" stroke-linecap="butt" />
<polyline points="76.0,398.8 76.2,400.1 76.4,400.4 76.7,400.5 77.0,400.4 77.2,402.1 77.5,402.7 77.7,402.7 78.0,403.0 78.4,402.7 78.8,402.4 79.1,403.1 79.5,403.2 79.8,401.8 80.0,402.8 80.3,400.4 80.5,397.5 80.6,395.3 80.6,395.5 80.7,393.3 80.7,391.8 80.8,389.6 80.8,386.7 80.9,385.5 80.9,384.3 80.9,382.0 81.0,382.1 81.0,379.3 81.0,377.3 81.1,377.1 81.1,374.1 81.1,374.1 81.2,371.5 81.2,370.1 81.2,368.1 81.3,366.8 81.3,364.6 81.3,362.7 81.3,362.7 81.4,359.8 81.4,359.2 81.4,356.3 81.4,356.2 81.4,354.4 81.5,352.3 81.5,350.5 81.5,348.4 81.5,346.9 81.6,343.9 81.6,343.0 81.6,342.1 81.6,339.2 81.7,339.1 81.7,337.4 81.7,334.8 81.7,333.0 81.8,331.4 81.8,329.6 81.8,329.0 81.8,326.1 81.9,323.6 81.9,322.2 81.9,321.8 82.0,320.8 82.0,318.2 82.0,316.6 82.0,315.1 82.1,313.9 82.1,311.2 82.1,310.3 82.2,308.6 82.2,307.1 82.2,304.5 82.2,302.8 82.3,301.5 82.3,301.0 82.3,298.1 82.4,297.0 82.4,294.7 82.4,292.6 82.5,290.8 82.5,290.6 82.5,289.0 82.6,286.6 82.6,285.6 82.6,284.0 82.7,282.9 82.7,281.4 82.7,278.8 82.7,278.3 82.8,276.6 82.8,274.2 82.8,273.1 82.9,270.7 82.9,268.8 82.9,266.8 83.0,266.4 83.0,263.3 83.0,261.5 83.1,261.4 83.1,259.7 83.1,257.5 83.2,256.6 83.2,253.5 83.2,252.3 83.3,250.7 83.3,249.4 83.3,247.3 83.4,245.5 83.4,244.5 83.4,244.0 83.5,242.6 83.5,240.5 83.5,238.4 83.6,236.4 83.6,236.2 83.6,233.7 83.7,232.6 83.7,229.6 83.7,228.3 83.8,227.9 83.8,226.2 83.9,224.7 83.9,222.5 83.9,220.4 84.0,219.1 84.0,217.9 84.1,215.2 84.2,214.1 84.2,212.1 84.3,211.5 84.5,208.1 84.8,209.8 85.1,212.0 85.5,212.0 86.1,215.5 86.5,217.2 86.9,219.2 87.3,220.4 87.7,221.4 88.0,223.3 88.4,225.9 89.1,228.6 89.7,229.7 90.4,232.1 91.0,234.2 91.7,235.7 92.3,238.0 93.0,238.4 93.6,240.4 94.2,240.1 94.8,238.6 95.4,238.7 96.0,237.6 96.6,237.6 97.3,236.7 98.0,236.0 98.8,234.9 99.8,233.2 100.9,231.1 101.4,229.3 102.0,226.8 103.0,225.4 103.8,223.5 104.5,221.3 105.2,219.2 106.0,215.0 106.5,214.2 106.9,211.6 107.4,211.0 107.9,207.8 108.5,206.8 109.0,203.9 109.5,203.1 110.0,200.6 111.0,197.6 111.9,196.5 112.9,194.6 114.0,193.8 115.3,190.2 116.8,188.1 117.6,186.9 118.4,186.4 119.2,183.5 120.0,183.2 121.6,180.6 123.3,178.7 124.2,177.9 125.0,175.3 125.9,174.8 126.7,173.1 127.5,171.6 128.3,169.1 129.1,168.9 129.8,167.6 130.6,164.6 131.4,162.9 132.2,162.6 133.0,159.2 133.8,157.6 134.7,156.1 135.5,156.1 136.4,154.5 137.3,152.4 138.1,151.3 139.1,148.8 140.0,148.7 141.0,147.0 142.0,145.9 143.1,144.4 144.1,143.2 145.2,141.7 146.3,140.2 148.4,139.1 150.5,137.1 152.6,136.8 154.6,136.0 156.7,134.6 158.7,132.8 160.7,131.0 162.8,130.0 165.0,129.2 167.3,128.8 169.7,128.9 172.3,126.8 175.0,127.0 176.5,126.6 178.0,126.6 179.7,126.5 181.3,125.9 182.9,125.1 184.6,124.9 186.1,124.2 187.6,124.0 190.4,122.7 193.0,121.5 195.4,119.4 197.6,119.3 199.5,116.5 201.0,114.8 202.5,113.1 204.0,111.4 205.6,109.7 207.1,106.2 208.6,105.1 210.0,103.4 211.3,101.7 212.6,99.2 213.8,98.1 215.0,95.2 216.1,93.7 217.2,93.2 218.2,90.9 219.2,88.4 220.2,85.7 221.2,85.2 222.1,82.5 223.0,79.4 223.8,77.6 224.6,76.2 225.3,74.3 226.0,71.5 226.7,71.2 227.3,68.3 227.9,66.6 228.5,66.1 229.1,62.8 229.8,61.9 230.4,59.0 231.0,58.2 231.5,56.3 231.8,55.5 232.2,55.8 232.5,53.9 232.8,52.8 233.1,52.0 233.3,50.3 233.5,49.3" fill="none" stroke="#000080" stroke-width="4.2" stroke-linejoin="round" stroke-linecap="butt" />
<polyline points="71.3,40.1 71.3,41.7 71.3,42.8 71.3,44.8 71.3,45.8 71.3,47.6 71.3,48.8 71.3,50.7 71.3,51.9 71.3,53.7 71.4,55.2 71.4,56.7 71.4,58.1 71.4,59.8 71.4,61.4 71.4,62.4 71.4,64.1 71.4,65.9 71.4,67.3 71.4,68.6 71.4,70.0 71.4,71.9 71.4,72.9 71.4,74.8 71.4,76.4 71.4,77.5 71.4,79.1 71.4,80.6 71.5,82.2 71.5,83.6 71.5,85.4 71.5,86.9 71.5,88.1 71.5,89.9 71.5,90.9 71.5,92.5 71.5,94.3 71.5,95.9 71.5,97.4 71.5,99.0 71.5,100.4 71.5,101.6 71.5,103.4 71.5,105.0 71.5,106.0 71.5,107.7 71.6,109.0 71.6,110.5 71.6,112.2 71.6,113.9 71.6,115.5 71.6,116.5 71.6,118.3 71.6,120.1 71.6,121.4 71.6,122.8 71.6,124.1 71.6,125.9 71.6,127.2 71.6,128.9 71.6,130.4 71.6,131.8 71.6,133.5 71.6,134.8 71.7,136.3 71.7,138.1 71.7,139.2 71.7,140.7 71.7,142.4 71.7,143.9 71.7,145.6 71.7,146.8 71.7,148.3 71.7,149.7 71.7,151.4 71.7,152.8 71.7,154.4 71.7,156.1 71.7,157.2 71.7,159.3 71.7,160.6 71.7,162.2 71.8,163.5 71.8,165.1 71.8,166.5 71.8,168.0 71.8,169.4 71.8,171.0 71.8,172.5 71.8,174.1 71.8,175.9 71.8,177.4 71.8,178.8 71.8,179.9 71.8,181.6 71.8,183.3 71.8,184.9 71.8,186.3 71.9,187.9 71.9,189.6 71.9,190.7 71.9,192.3 71.9,194.1 71.9,195.3 71.9,197.1 71.9,198.4 71.9,199.7 71.9,201.5 71.9,202.8 71.9,204.8 71.9,206.4 71.9,207.7 71.9,209.5 71.9,210.6 72.0,212.3 72.0,213.6 72.0,215.1 72.0,217.1 72.0,218.2 72.0,220.2 72.0,221.6 72.0,223.2 72.0,224.3 72.0,226.4 72.0,227.8 72.0,229.0 72.0,230.6 72.0,232.0 72.0,233.8 72.1,235.0 72.1,236.9 72.1,238.3 72.1,239.9 72.1,241.1 72.1,242.9 72.1,244.2 72.1,245.9 72.1,247.2 72.1,249.1 72.1,250.5 72.1,252.0 72.1,253.2 72.1,254.6 72.2,256.1 72.2,257.6 72.2,259.6 72.2,260.8 72.2,262.7 72.2,263.8 72.2,265.6 72.2,266.9 72.2,268.5 72.2,270.3 72.2,271.8 72.2,273.5 72.3,274.6 72.3,276.2 72.3,277.6 72.3,279.3 72.3,281.3 72.3,282.6 72.3,284.1 72.3,285.6 72.3,287.5 72.3,289.0 72.3,290.3 72.4,291.8 72.4,293.5 72.4,295.4 72.4,297.0 72.4,298.3 72.4,299.8 72.4,301.5 72.4,303.4 72.4,305.1 72.5,306.5 72.5,308.2 72.5,309.8 72.5,311.9 72.5,313.4 72.5,315.2 72.6,316.5 72.6,318.3 72.6,320.0 72.6,321.8 72.6,323.0 72.7,324.5 72.7,326.4 72.7,328.0 72.7,329.6 72.8,331.3 72.8,332.9 72.8,335.0 72.8,337.1 72.8,338.5 72.8,340.4 72.9,342.2 72.9,343.8 72.9,345.3 72.9,347.0 72.9,348.8 72.9,350.3 72.9,351.5 73.0,353.3 73.0,355.1 73.0,356.7 73.0,358.3 73.0,360.0 73.0,362.1 73.0,363.7 73.1,365.0 73.1,366.6 73.1,368.2 73.1,370.2 73.1,372.0 73.1,373.5 73.2,375.3 73.2,377.1 73.2,378.3 73.2,380.1 73.3,381.6 73.3,383.3 73.3,384.9 73.4,387.2 73.4,388.8 73.4,390.6 73.4,392.2 73.5,393.2 73.5,395.0 73.5,396.3 73.5,398.2 73.6,399.9 73.6,401.8 73.6,403.1 73.6,405.1 73.7,406.6 73.7,408.3 73.7,409.6 73.7,411.0 73.8,413.0 73.8,414.2 73.8,416.4 73.9,418.0 73.9,420.1 73.9,421.8 74.0,423.5 74.0,424.6 74.1,426.7 74.1,429.0 74.2,431.0 74.2,432.3 74.4,435.0 74.6,436.4 74.8,436.9 75.1,436.9 75.3,435.9 75.5,434.2 75.8,431.6 75.9,430.0 76.0,428.2 76.1,426.7 76.2,425.0 76.3,423.3 76.4,421.0 76.5,419.1 76.6,417.3 76.7,415.2 76.8,413.2 76.9,411.6 77.0,410.1 77.2,407.9 77.5,406.4 77.7,405.2 78.0,404.2 78.3,403.5 78.7,403.1 79.0,402.9 79.3,402.2 79.6,400.6 79.8,398.6 80.0,395.7 80.1,393.7 80.2,392.1 80.3,390.1 80.3,388.2 80.4,386.8 80.5,384.7 80.5,383.4 80.6,381.5 80.6,380.0 80.7,378.1 80.7,375.9 80.8,374.0 80.8,372.6 80.9,370.5 80.9,368.7 81.0,367.0 81.0,365.1 81.0,363.4 81.1,361.5 81.1,359.7 81.2,358.2 81.2,356.1 81.3,354.7 81.3,353.0 81.4,350.9 81.4,349.3 81.5,348.4 81.5,346.4 81.5,345.1 81.6,343.5 81.6,341.7 81.7,340.0 81.7,338.2 81.8,336.9 81.8,335.2 81.8,333.5 81.9,331.4 81.9,329.9 82.0,328.0 82.0,326.8 82.0,325.2 82.1,323.6 82.1,321.9 82.1,320.2 82.2,318.5 82.2,316.7 82.3,315.1 82.3,313.8 82.3,312.3 82.4,310.7 82.4,308.6 82.4,307.0 82.5,305.6 82.5,303.5 82.5,302.1 82.6,300.3 82.6,298.5 82.7,296.8 82.7,294.9 82.7,293.2 82.8,291.6 82.8,290.3 82.8,288.6 82.9,286.5 82.9,285.4 82.9,283.4 83.0,282.1 83.0,280.7 83.0,279.1 83.0,277.5 83.1,275.9 83.1,274.0 83.1,272.0 83.2,270.4 83.2,269.0 83.2,267.2 83.3,265.7 83.3,263.6 83.3,262.4 83.3,260.6 83.4,259.0 83.4,257.1 83.4,255.7 83.5,254.2 83.5,252.7 83.5,251.0 83.6,249.5 83.6,247.9 83.6,246.2 83.7,244.6 83.7,243.4 83.8,241.7 83.8,240.0 83.9,238.5 83.9,236.7 84.0,234.8 84.0,233.2 84.1,231.0 84.1,229.8 84.2,228.1 84.3,226.5 84.3,225.0 84.4,223.3 84.5,221.9 84.6,220.0 84.7,217.7 84.8,216.1 85.0,213.8 85.3,212.8 85.7,214.3 86.1,216.5 86.5,218.8 86.9,222.0 87.1,223.5 87.3,225.8 87.6,227.7 87.8,229.7 88.1,231.4 88.4,232.8 88.8,234.7 89.1,236.2 89.9,239.1 90.8,241.1 91.5,242.8 92.1,243.9 92.6,244.1 93.0,243.5 93.5,242.8 94.0,242.5 94.6,241.8 95.1,241.1 95.7,240.3 96.3,238.7 96.8,236.6 97.4,235.2 98.0,233.2 98.7,231.1 99.4,229.1 100.2,227.5 101.0,224.9 101.9,221.9 102.4,220.8 102.9,218.9 103.4,217.0 103.9,215.4 104.5,214.1 105.0,211.9 105.6,210.2 106.2,208.2 106.8,206.2 107.4,204.3 108.0,202.3 108.7,200.6 109.3,198.8 110.0,197.1 110.7,195.5 111.4,193.9 112.2,191.8 112.9,190.5 113.7,188.6 114.5,187.2 115.2,185.6 116.0,183.9 116.7,182.5 117.5,180.5 118.2,178.6 118.9,177.1 119.6,175.1 120.4,173.7 121.2,171.5 122.0,169.8 122.9,168.0 123.8,166.5 124.8,165.1 125.8,162.9 126.8,161.6 127.8,160.1 128.9,158.0 130.0,156.6 131.2,155.0 132.4,153.4 133.7,151.7 135.0,149.9 136.3,148.2 137.6,146.5 138.8,144.8 140.0,143.1 141.1,141.9 142.2,140.1 143.3,138.5 144.3,137.1 145.3,135.5 146.3,134.3 147.4,133.2 148.4,131.6 150.5,129.4 152.6,127.7 154.6,126.3 156.7,125.2 158.9,123.8 161.1,122.3 163.2,121.0 165.0,119.8 166.4,119.5 167.5,118.5 168.6,118.1 170.0,117.6 171.9,116.5 174.2,114.9 176.5,114.1 178.8,112.6 181.0,111.5 183.2,110.2 185.3,109.5 187.5,107.8 189.7,106.7 191.9,104.8 194.1,103.5 196.3,101.6 198.5,99.5 199.6,98.3 200.7,97.5 201.8,95.9 202.9,94.8 204.0,93.5 205.1,92.6 206.3,90.8 207.5,89.4 208.8,88.4 210.1,86.5 211.3,85.0 212.5,83.8 213.6,82.1 214.6,81.0 216.2,78.7 217.4,76.0 218.4,74.0 219.5,71.7 220.6,69.7 221.6,67.8 222.6,65.9 223.5,63.7 224.5,61.4 225.4,58.8 226.3,57.1 227.0,55.0 227.4,53.6 227.7,51.8 227.9,51.1 228.0,49.9" fill="none" stroke="#ffa500" stroke-width="4.0" stroke-linejoin="round" stroke-linecap="butt" />
</g>
<rect x="136.7" y="294.2" width="84.5" height="114.1" fill="#fff"/>
<g clip-path="url(#cI)">
<polygon points="166.0,371.4 166.1,370.1 166.2,369.1 166.4,368.1 166.5,366.0 166.6,364.6 166.7,363.4 166.9,362.6 167.0,360.4 167.3,359.5 167.6,357.7 168.3,354.9 169.2,353.8 170.1,352.6 171.1,351.6 172.2,351.6 173.3,350.2 174.5,350.0 175.7,351.1 176.8,350.7 177.9,350.9 179.0,351.5 180.0,351.8 180.9,352.8 181.8,352.2 182.6,352.2 183.3,352.1 184.0,350.7 184.6,349.2 185.2,346.8 185.8,344.0 186.4,341.7 187.1,340.1 187.4,339.1 187.7,336.8 188.0,336.5 188.3,335.4 188.9,332.9 189.6,330.1 189.9,329.6 190.2,328.3 190.5,326.3 190.8,325.6 191.1,323.6 191.4,322.0 191.7,320.8 192.0,319.2 192.2,317.7 192.5,316.4 192.7,315.0 193.0,313.6 193.2,312.0 193.4,310.4 193.6,308.5 193.8,306.3 194.0,304.5 194.2,303.5 194.4,301.9 194.6,300.5 194.8,298.3 195.0,296.9 195.2,296.3 195.4,294.5 195.6,293.3 195.8,291.3 196.0,289.9 203.0,289.8 202.8,291.3 202.6,293.8 202.5,295.0 202.3,296.9 202.2,299.0 202.0,300.6 201.8,301.4 201.7,303.6 201.5,305.6 201.4,306.9 201.2,308.7 201.1,308.8 201.0,310.1 200.8,311.8 200.7,313.1 200.5,315.2 200.3,316.6 200.2,317.5 200.0,318.6 199.9,320.2 199.7,320.8 199.5,322.7 199.3,323.6 199.1,324.8 198.9,326.5 198.7,327.9 198.5,329.3 198.3,331.0 198.1,332.5 197.9,333.3 197.7,335.2 197.5,336.2 197.3,337.9 197.1,338.1 196.9,339.5 196.7,341.1 196.4,342.7 196.2,344.0 196.0,345.1 195.8,347.3 195.6,347.9 195.3,349.3 195.1,351.4 194.9,352.4 194.7,354.1 194.4,355.0 194.2,355.7 194.0,357.4 193.7,359.6 193.4,360.4 193.1,361.7 192.8,363.2 192.5,364.5 192.2,366.3 191.9,367.8 191.7,368.8 191.4,370.1 191.1,371.5 190.8,372.8 190.5,373.2 190.1,375.8 189.6,376.7 189.2,378.1 188.8,379.9 188.4,380.9 187.9,382.3 187.2,384.4 186.7,386.2 186.3,387.2 185.8,388.9 184.9,388.0 183.5,387.7 181.7,387.0 179.8,386.8 178.0,385.4 176.2,384.1 175.3,383.1 174.3,381.5 173.5,380.8 172.6,380.6 171.8,378.7 171.1,378.0 170.5,377.2 169.9,375.8 169.6,374.1 169.3,373.3 169.0,371.7 168.6,369.6 168.3,368.8 167.6,366.7 167.0,367.4 166.6,368.4 166.2,370.3 166.0,371.5" fill="#000080" fill-opacity="0.35" stroke="none"/>
<polygon points="137.0,290.1 137.5,291.3 138.2,292.9 138.7,293.4 139.1,295.3 139.3,296.9 139.6,298.2 139.8,298.3 140.0,300.2 140.2,301.6 140.3,302.7 140.5,304.9 140.6,305.5 140.8,306.8 140.9,308.9 141.1,309.8 141.2,310.6 141.3,311.9 141.5,313.6 141.6,314.2 141.7,316.4 141.8,318.0 142.0,318.8 142.1,320.8 142.2,322.2 142.3,322.9 142.4,324.3 142.5,324.7 142.7,325.9 142.8,328.7 142.9,328.8 143.0,330.0 143.1,332.4 143.3,333.5 143.4,333.8 143.5,335.4 143.6,336.6 143.8,338.0 143.9,338.9 144.0,341.0 144.1,342.0 144.3,343.5 144.4,344.6 144.5,345.8 144.7,347.0 144.8,349.7 144.9,350.9 145.1,351.9 145.2,352.5 145.3,353.9 145.5,355.1 145.6,356.8 145.7,357.7 145.8,359.3 146.0,360.4 146.1,361.7 146.2,363.6 146.3,364.5 146.5,365.8 146.6,366.8 146.7,368.4 146.8,370.0 147.0,370.6 147.1,371.5 147.2,373.4 147.4,374.5 147.5,376.4 147.6,376.7 147.8,379.3 147.9,379.3 148.0,381.5 148.2,382.7 148.3,383.8 148.4,385.9 148.5,386.8 148.7,387.2 148.8,388.9 148.9,390.4 149.1,390.8 149.2,392.1 149.4,394.2 149.6,395.7 149.8,396.6 150.0,397.9 150.3,399.2 150.7,400.0 151.4,402.0 152.2,402.4 153.0,402.0 154.0,401.6 155.0,402.2 156.0,402.7 157.0,401.7 157.8,401.1 158.5,400.9 159.2,401.2 160.0,400.2 161.0,398.4 162.1,397.3 163.4,395.8 164.6,394.7 165.8,393.6 167.1,392.3 168.4,392.2 170.0,391.7 171.8,390.6 173.9,389.4 176.0,388.1 178.0,387.0 179.9,386.8 181.8,385.9 183.5,385.4 184.9,383.6 185.9,382.0 186.7,380.6 187.3,379.3 188.0,377.1 188.4,375.3 188.8,374.2 189.3,374.1 189.7,371.4 190.2,371.3 190.6,369.6 191.1,367.7 191.5,366.8 191.8,365.1 192.1,362.8 192.4,363.1 192.7,360.9 193.0,360.3 193.3,358.8 193.6,356.3 193.9,354.8 194.2,353.4 194.4,353.2 194.7,351.8 195.0,349.6 195.3,348.0 195.5,347.1 195.8,346.5 196.1,345.1 196.3,343.9 196.6,342.7 196.8,341.1 197.1,339.9 197.3,337.2 197.5,335.9 197.8,335.9 198.0,334.2 198.2,332.4 198.5,330.7 198.7,329.7 198.9,328.4 199.1,327.3 199.3,325.9 199.5,324.2 199.7,322.7 199.9,321.5 200.1,320.1 200.3,318.7 200.5,317.9 200.7,316.0 200.8,315.8 201.0,314.0 201.2,312.5 201.3,311.4 201.5,309.3 201.6,307.6 201.8,306.4 201.9,305.5 202.1,304.3 202.2,302.8 202.3,301.7 202.5,300.8 202.6,297.7 202.7,296.6 202.9,294.8 203.0,293.2 203.1,292.4 203.2,289.6 206.5,284.6 206.4,286.8 206.3,286.7 206.2,289.8 206.1,290.3 206.0,292.3 205.9,294.0 205.7,294.9 205.6,296.2 205.5,297.5 205.3,299.3 205.2,300.2 205.1,302.0 204.9,304.2 204.8,305.0 204.6,306.9 204.5,308.0 204.4,310.2 204.2,310.1 204.1,312.6 203.9,314.4 203.7,315.8 203.6,316.4 203.4,317.2 203.3,319.2 203.1,320.2 202.9,322.3 202.7,323.5 202.5,325.6 202.3,326.5 202.1,328.5 201.8,329.8 201.6,330.8 201.3,332.6 201.1,332.8 200.8,334.2 200.6,335.5 200.3,337.7 200.0,338.6 199.8,340.2 199.5,341.3 199.2,343.8 198.9,345.6 198.7,347.1 198.4,347.7 198.1,350.0 197.8,350.8 197.5,353.3 197.2,354.8 196.9,355.6 196.6,357.1 196.3,358.2 196.0,360.6 195.7,361.4 195.4,363.3 195.1,364.8 194.8,365.3 194.5,367.3 194.2,368.6 194.0,370.0 193.7,370.6 193.4,371.7 193.1,373.7 192.8,375.2 192.5,376.3 192.1,377.4 191.6,380.1 191.2,381.6 190.8,382.1 190.4,383.9 189.9,386.0 189.5,387.5 189.0,387.7 188.5,389.8 188.1,390.1 187.2,391.6 186.1,393.5 184.9,395.0 183.4,395.7 181.7,396.0 179.9,396.3 178.0,397.1 176.0,398.3 175.0,399.3 173.9,399.8 172.9,400.7 171.8,401.1 170.0,402.4 168.5,402.5 167.2,404.1 166.0,404.4 164.6,404.9 163.0,405.4 161.3,407.8 159.6,408.5 158.0,408.3 156.4,409.9 154.7,410.3 153.2,408.7 152.6,408.9 152.0,407.3 151.7,405.0 151.4,404.3 151.2,402.4 151.0,401.6 150.9,400.5 150.8,398.4 150.7,396.8 150.6,395.1 150.5,394.6 150.4,392.9 150.4,392.2 150.3,391.4 150.2,389.1 150.1,388.0 150.0,386.6 149.9,385.8 149.8,384.5 149.7,382.4 149.6,381.1 149.5,380.4 149.4,378.0 149.3,378.1 149.2,376.4 149.0,375.7 148.9,374.1 148.8,373.0 148.7,371.2 148.6,369.6 148.5,369.4 148.4,367.0 148.3,366.1 148.2,365.1 148.1,363.2 148.0,362.3 147.8,360.7 147.7,359.8 147.6,358.4 147.5,357.2 147.4,355.7 147.3,354.9 147.2,353.6 147.0,353.2 146.9,351.6 146.8,349.2 146.7,349.2 146.6,347.1 146.5,346.5 146.4,344.7 146.2,344.0 146.1,342.9 146.0,340.7 145.9,339.2 145.8,338.2 145.7,337.9 145.6,336.6 145.5,335.1 145.3,334.3 145.2,332.2 145.1,331.2 145.0,330.0 144.9,329.0 144.8,327.8 144.7,326.4 144.5,324.6 144.4,323.5 144.3,322.2 144.2,321.5 144.1,320.1 144.0,319.4 143.8,317.8 143.7,316.6 143.6,314.8 143.5,313.0 143.3,311.4 143.2,310.1 143.1,309.8 142.9,308.6 142.8,306.9 142.6,305.1 142.5,303.5 142.3,302.7 142.2,300.7 142.0,299.7 141.8,298.7 141.6,298.3 141.3,296.1 141.1,295.7 140.7,294.4 140.2,293.0 139.5,291.2 139.0,290.0" fill="#add8e6" fill-opacity="0.45" stroke="none"/>
<polyline points="140.5,293.9 140.6,295.5 140.8,297.2 140.9,299.5 141.0,301.0 141.1,302.8 141.2,304.3 141.4,305.7 141.5,307.5 141.6,309.0 141.7,310.7 141.8,312.1 141.9,313.8 142.0,315.1 142.1,316.4 142.3,317.9 142.4,319.9 142.5,320.9 142.6,322.8 142.7,324.3 142.8,325.4 142.9,327.5 143.0,328.4 143.2,330.6 143.3,332.1 143.4,333.1 143.5,335.1 143.6,336.6 143.8,337.6 143.9,339.6 144.0,340.7 144.1,343.1 144.3,344.6 144.4,346.6 144.6,347.6 144.7,349.6 144.9,351.6 145.0,353.2 145.2,354.5 145.3,356.8 145.5,358.4 145.6,359.6 145.8,361.2 145.9,363.1 146.1,364.4 146.2,366.2 146.4,367.6 146.5,369.1 146.7,370.3 146.8,372.1 147.0,374.0 147.2,375.9 147.3,377.3 147.5,379.2 147.7,380.9 147.9,383.0 148.1,384.7 148.3,386.3 148.5,387.8 148.7,389.4 148.9,391.1 149.1,393.4 149.3,395.3 149.6,397.1 149.8,398.4 150.1,401.0 150.5,402.7 151.1,405.8 151.7,406.6 152.3,406.9 153.0,407.1 153.9,407.4 155.0,407.9 156.1,408.0 157.0,407.3 157.7,407.3 158.3,407.3 158.9,406.9 159.6,405.9 160.6,404.7 161.7,403.5 162.8,401.2 164.0,399.8 165.1,399.1 166.1,398.0 167.3,397.8 168.8,396.5 170.8,395.8 173.3,394.1 175.8,393.3 178.0,392.2 179.9,391.7 181.7,391.1 183.4,390.6 184.9,389.3 186.3,387.3 187.0,386.3 187.6,384.4 188.2,382.9 188.8,381.5 189.4,379.4 190.0,377.9 190.5,376.0 191.1,374.5 191.6,372.1 192.1,370.9 192.6,368.5 193.1,366.5 193.5,364.2 194.0,362.0 194.3,360.8 194.6,359.3 194.9,357.7 195.2,355.4 195.5,354.3 195.8,352.9 196.1,351.0 196.4,349.3 196.7,347.8 196.9,345.9 197.2,344.7 197.5,343.2 197.9,340.5 198.3,338.6 198.7,336.5 199.1,334.2 199.5,332.4 199.8,330.5 200.2,328.4 200.5,325.8 200.8,323.7 201.1,322.2 201.4,320.0 201.6,318.2 201.8,316.3 202.1,313.8 202.3,312.1 202.5,309.8 202.7,308.2 202.9,306.0 203.0,303.5 203.2,301.6 203.3,299.6 203.4,297.3 203.6,295.5 203.7,294.0 203.9,290.7 204.2,288.5 204.4,286.8 204.5,285.3" fill="none" stroke="#add8e6" stroke-width="4.0" stroke-linejoin="round" stroke-linecap="butt" />
<polyline points="157.5,285.0 157.9,286.7 158.5,289.2 159.2,291.8 160.0,294.0 160.9,295.5 162.0,296.8 163.1,297.8 164.2,299.0 165.2,300.2 166.1,301.4 167.0,302.7 168.0,304.0 169.0,305.3 170.0,306.7 171.0,308.3 172.0,310.3 173.0,313.0 173.9,316.2 174.9,319.6 175.8,322.9 176.7,325.9 177.7,328.9 178.6,332.0 179.5,335.4 180.4,339.0 181.4,342.8 182.3,347.0 183.3,351.7 184.3,357.3 185.2,363.5 186.2,369.9 187.2,375.9 188.3,381.6 189.6,387.3 190.8,392.4 191.8,396.6 192.6,399.5 193.3,401.4 193.8,402.8 194.5,404.0 195.2,405.2 196.0,406.1 196.8,406.7 197.5,406.9 198.2,406.7 198.8,406.1 199.4,405.2 200.0,404.0 200.5,402.9 200.9,401.8 201.4,400.0 202.1,396.6 203.1,391.3 204.3,384.5 205.6,376.9 206.7,369.0 207.7,360.9 208.5,352.2 209.4,343.3 210.2,334.5 211.1,325.4 212.0,316.0 212.9,307.3 213.6,300.0 214.1,294.5 214.4,290.3 214.6,287.2 214.8,285.0" fill="none" stroke="#800080" stroke-width="4.0" stroke-linejoin="round" stroke-linecap="butt" />
<polyline points="167.6,367.5 168.6,367.4 170.1,366.4 171.7,365.9 173.4,365.6 175.1,365.8 177.0,366.0 178.8,366.5 180.3,366.4 181.4,366.6 182.2,366.3 182.8,366.2 183.5,365.5 184.1,365.1 184.7,364.4 185.2,363.4 185.8,362.7 186.4,361.2 187.1,359.2 187.8,357.0 188.5,355.0 189.4,352.6 190.3,350.1 191.2,347.2 191.6,345.7 192.0,344.2 192.3,342.5 192.6,340.8 192.9,339.1 193.1,337.9 193.3,336.2 193.5,334.1 193.8,332.9 194.0,331.0 194.2,329.3 194.5,328.2 194.9,325.2 195.3,322.4 195.6,320.7 195.8,318.8 196.1,317.2 196.3,315.5 196.6,313.6 196.8,311.3 197.1,309.4 197.4,307.6 197.6,305.5 197.8,304.2 198.2,301.3 198.5,298.4 198.7,296.4 199.0,293.9 199.3,291.3 199.6,288.9 199.8,286.9 200.0,285.0" fill="none" stroke="#000080" stroke-width="4.0" stroke-linejoin="round" stroke-linecap="butt" />
<polyline points="139.0,285.0 139.1,286.3 139.2,288.0 139.3,290.5 139.6,294.0 140.0,299.0 140.5,305.1 141.1,311.7 141.6,318.0 142.1,323.5 142.6,328.6 143.1,334.2 143.7,341.0 144.5,349.9 145.4,360.2 146.4,370.5 147.2,379.0 147.9,385.3 148.4,390.4 149.0,394.5 149.5,398.0 150.0,400.9 150.4,403.2 150.9,404.8 151.5,406.0 152.2,407.0 153.1,407.7 154.0,407.6 155.0,406.5 156.1,403.9 157.2,400.1 158.4,395.9 159.6,392.0 160.8,388.4 161.9,384.7 163.0,381.2 164.2,378.2 165.3,375.6 166.5,373.4 167.7,371.5 168.8,370.1 169.9,369.3 171.0,369.0 172.1,369.0 173.4,369.0 175.0,368.9 176.9,369.0 178.7,369.0 180.3,369.0 181.6,369.0 182.7,368.9 183.6,368.8 184.5,368.5 185.2,368.1 185.8,367.7 186.3,367.1 187.0,366.0 187.8,364.5 188.7,362.7 189.6,360.5 190.5,358.0 191.5,355.0 192.6,351.5 193.7,347.8 194.6,344.2 195.4,340.6 196.0,336.9 196.6,333.3 197.2,330.0 197.7,327.2 198.1,324.7 198.5,322.1 199.0,319.0 199.6,315.0 200.2,310.3 200.7,305.8 201.2,302.0 201.5,299.4 201.7,297.5 201.9,295.9 202.1,294.0 202.3,291.6 202.6,289.0 202.8,286.6 203.0,285.0" fill="none" stroke="#ffa500" stroke-width="4.0" stroke-linejoin="round" stroke-linecap="butt" />
</g>
<g stroke="#808080" stroke-width="1" fill="none">
<rect x="136.7" y="294.2" width="84.5" height="114.1"/>
<line x1="134.3" y1="379.4" x2="136.7" y2="379.4"/>
<line x1="134.3" y1="351.1" x2="136.7" y2="351.1"/>
<line x1="134.3" y1="322.8" x2="136.7" y2="322.8"/>
<line x1="136.9" y1="408.3" x2="136.9" y2="410.8"/>
<line x1="201.6" y1="408.3" x2="201.6" y2="410.8"/>
</g>
<g clip-path="url(#cB)">
<polygon points="373.0,167.2 373.4,166.8 373.8,164.5 374.2,165.4 374.7,162.4 375.1,162.3 375.5,162.2 375.9,159.2 376.4,159.7 376.8,157.7 377.1,156.0 377.5,155.0 377.9,153.3 378.4,151.0 378.7,151.5 379.1,148.0 379.5,148.3 379.8,146.4 380.2,142.1 380.5,141.2 380.8,140.2 381.2,139.6 381.5,135.8 381.8,135.5 382.0,133.5 382.2,133.6 382.4,132.9 382.7,130.6 383.0,127.0 383.2,127.6 383.5,125.4 383.7,125.5 383.9,123.1 384.2,123.3 384.4,122.3 384.6,120.6 384.9,119.4 385.1,118.2 385.5,115.9 385.8,113.0 386.1,114.1 386.5,111.1 386.8,108.4 387.2,108.4 387.5,107.2 387.8,105.3 388.5,105.5 389.2,100.6 389.8,101.0 390.5,98.0 391.2,95.0 391.9,93.9 392.6,92.7 393.3,90.2 394.0,90.8 394.6,89.2 395.1,89.0 395.8,87.3 396.6,85.9 397.7,85.3 399.0,83.9 400.5,81.7 402.0,80.1 403.6,78.8 405.4,78.4 407.2,77.5 409.0,76.1 410.7,75.1 412.4,71.7 414.3,72.3 416.5,70.7 417.9,72.1 419.3,71.8 420.8,71.6 422.4,72.5 424.1,70.3 425.7,71.9 427.4,71.3 429.0,70.1 430.6,72.5 432.2,69.5 433.8,70.8 435.4,71.0 437.0,71.2 438.6,72.4 440.2,71.1 441.8,72.2 443.4,70.4 445.0,71.0 446.7,70.0 448.3,71.6 449.9,71.0 451.5,72.3 453.0,70.5 454.4,71.9 455.7,74.1 457.0,71.7 458.1,74.7 459.3,75.6 460.4,76.6 461.4,76.8 463.5,77.5 465.4,78.8 467.1,75.9 468.8,76.0 470.7,74.5 471.8,74.0 472.8,72.4 474.0,70.0 475.1,71.5 476.3,68.9 477.5,69.5 478.6,69.2 479.8,67.6 480.9,65.4 482.1,65.9 483.3,63.4 484.4,62.2 485.5,62.1 486.7,61.4 487.7,60.8 488.8,59.6 490.8,58.0 492.7,58.4 494.5,56.4 496.0,56.3 497.3,53.0 498.4,51.6 499.4,52.3 500.0,49.1 500.0,119.0 499.5,121.5 498.8,122.1 497.7,122.5 496.0,121.9 494.7,124.3 493.5,122.9 492.4,125.9 491.3,124.7 490.2,125.1 489.1,126.2 487.9,129.0 486.8,128.7 485.6,127.6 484.5,130.3 483.4,130.2 482.3,129.2 481.2,131.1 480.1,130.7 478.9,133.0 477.8,133.1 476.6,134.1 475.5,135.1 474.5,133.8 473.4,135.6 472.0,134.8 470.7,135.6 468.9,137.7 467.6,140.2 466.5,140.2 465.0,138.9 463.2,141.0 461.3,139.4 459.0,141.5 457.5,141.0 456.0,142.3 454.7,141.8 453.4,142.1 452.1,141.6 450.6,140.1 449.1,141.9 447.6,142.3 446.3,140.6 445.1,141.8 443.9,141.8 442.7,142.1 441.1,139.5 439.6,141.5 438.0,141.3 436.4,140.6 434.9,140.2 433.3,140.6 432.1,139.7 430.9,140.6 429.7,139.1 428.5,139.2 427.0,139.0 425.5,139.1 423.9,140.0 422.6,140.2 421.3,140.5 420.0,138.4 418.5,138.4 417.0,139.6 415.8,140.3 414.6,140.7 412.4,140.3 410.0,138.5 408.7,138.1 407.3,138.3 405.9,139.3 404.6,139.1 403.2,137.8 401.8,139.0 400.5,140.2 399.2,139.5 397.9,139.4 396.6,140.8 395.3,141.0 394.1,141.3 392.9,141.6 391.7,140.6 389.8,142.6 388.5,141.8 387.7,142.4 387.0,143.3 386.0,144.6 385.3,145.7 384.7,148.1 383.9,148.6 383.2,152.1 382.7,152.3 382.1,152.8 381.6,154.7 380.8,158.1 380.0,156.9 379.1,160.8 378.2,160.6 377.1,163.7 376.1,163.7 375.2,165.7 374.3,164.8 373.0,169.5" fill="#000080" fill-opacity="0.35" stroke="none"/>
<polygon points="334.5,150.0 335.0,153.9 335.8,159.4 336.5,165.0 337.1,170.2 337.8,175.4 338.5,180.0 339.2,183.8 340.0,187.0 341.0,190.0 342.2,192.8 343.5,195.4 345.0,198.0 346.6,200.7 348.4,203.4 350.0,206.0 351.6,208.6 353.1,211.1 354.0,213.0 353.9,214.0 353.2,214.3 352.0,214.0 350.3,213.1 348.1,211.7 346.0,210.0 343.9,208.2 341.8,206.2 340.0,204.0 338.6,201.6 337.4,199.0 336.5,196.0 335.8,192.7 335.4,189.1 335.0,185.0 334.6,180.5 334.4,175.5 334.2,170.0 334.2,163.0 334.4,155.4 334.5,150.0" fill="#000080" fill-opacity="0.45" stroke="none"/>
<polygon points="356.0,217.0 356.7,213.7 357.8,213.1 358.3,211.4 358.9,211.2 359.5,209.0 360.0,208.8 360.5,206.1 361.0,206.6 361.5,204.2 362.0,202.5 362.5,201.5 363.0,200.8 363.5,198.3 364.0,197.8 364.5,195.8 365.0,194.6 365.5,193.6 366.0,192.5 366.5,191.3 367.0,191.1 367.5,189.1 368.0,188.7 368.5,187.5 369.0,186.3 369.5,185.1 370.0,183.2 370.5,182.1 371.0,181.3 371.5,179.3 372.0,177.3 372.5,176.8 373.0,175.6 373.5,173.6 374.0,172.2 374.5,171.1 375.0,170.9 375.5,169.9 376.0,168.3 376.5,166.6 377.0,164.5 377.5,163.2 378.0,163.2 378.5,161.7 379.0,160.3 379.5,158.5 380.0,157.2 380.9,155.2 381.8,153.1 382.7,152.1 383.5,149.6 384.3,148.2 385.0,146.1 385.7,144.6 386.5,143.5 387.2,142.4 388.0,140.2 388.8,141.0 389.8,140.2 391.0,139.7 392.4,138.7 394.0,139.5 396.0,139.1 398.4,137.9 399.7,138.9 401.1,139.2 402.5,139.1 404.0,139.5 405.5,138.9 407.0,139.3 408.5,138.4 410.0,139.9 411.5,139.2 413.1,140.8 414.7,141.5 416.4,140.9 417.6,140.6 418.8,140.8 420.0,142.0 421.4,141.6 422.8,143.1 424.1,143.1 425.7,143.2 427.2,143.9 428.7,143.2 430.3,144.1 431.8,143.6 433.4,144.9 434.9,145.6 436.5,144.6 438.0,145.9 439.5,146.7 441.0,145.5 442.5,145.4 444.0,145.6 445.5,146.9 447.0,145.5 448.5,147.0 450.0,146.0 451.5,147.1 453.0,147.3 454.5,147.2 456.0,145.9 457.6,146.5 459.1,145.9 460.7,146.9 461.9,145.6 463.1,145.2 464.3,145.5 465.6,144.7 467.1,144.7 468.6,145.4 470.1,144.4 471.4,143.9 472.7,145.1 474.0,143.5 475.4,144.2 476.8,143.7 478.8,142.7 480.7,142.1 481.8,141.6 483.0,141.7 484.6,140.9 486.2,139.6 487.4,140.0 488.6,139.4 489.8,139.8 491.0,137.9 492.1,138.2 493.3,138.9 494.6,136.6 496.0,137.5 497.7,136.9 498.8,135.5 499.5,133.6 500.0,134.6 500.0,145.6 499.5,145.6 498.8,146.1 497.7,147.8 496.0,148.5 494.6,147.5 493.3,149.1 492.1,149.2 491.0,149.0 489.8,150.0 488.6,150.4 487.4,151.5 486.2,150.8 484.6,152.5 483.0,152.5 481.8,152.7 480.7,154.7 478.8,154.7 476.8,156.5 475.4,156.9 474.0,157.3 472.7,157.2 471.4,157.5 470.1,157.5 468.6,158.4 467.1,158.7 465.6,158.1 464.3,158.4 463.1,157.5 461.9,158.2 460.7,159.4 459.1,159.2 457.6,158.0 456.0,158.9 454.5,159.0 453.0,159.5 451.5,159.5 450.0,158.7 448.5,157.9 447.0,158.7 445.5,157.6 444.0,157.7 442.5,157.8 441.0,157.9 439.5,157.4 438.0,156.5 436.5,157.4 434.9,155.5 433.4,155.8 432.2,155.2 431.0,156.2 429.9,154.3 428.7,153.8 427.2,154.2 425.7,154.3 424.1,152.6 422.8,152.8 421.4,152.6 420.0,152.8 418.8,151.1 417.5,151.0 416.3,150.5 414.6,150.5 412.9,149.6 411.4,150.1 409.9,148.7 408.4,148.4 407.0,148.8 405.7,148.7 404.4,149.2 403.1,148.4 401.9,148.2 399.8,148.2 398.0,149.9 396.6,149.2 395.7,149.2 394.9,149.8 394.0,150.3 393.0,150.8 392.0,151.0 391.0,153.6 390.0,153.3 389.0,155.3 388.0,156.7 387.0,158.7 386.0,160.8 385.0,163.0 384.5,163.3 384.0,166.0 383.5,166.8 383.0,166.7 382.5,168.1 382.0,169.5 381.5,172.1 381.0,172.1 380.5,173.2 380.0,175.6 379.5,176.2 379.0,178.1 378.5,179.3 378.0,179.5 377.5,181.0 377.0,182.1 376.5,183.8 376.0,183.7 375.5,185.2 375.0,185.9 374.5,188.9 374.0,189.3 373.5,189.8 373.0,191.5 372.5,192.4 372.0,192.8 371.5,194.1 371.0,195.6 370.5,196.6 370.0,197.3 369.5,199.6 369.0,199.8 368.5,202.0 368.0,203.6 367.5,203.1 367.0,204.0 366.0,207.7 365.0,209.5 364.1,211.4 363.1,212.7 362.0,214.9 360.5,215.3 358.8,215.4 357.1,216.5 356.0,216.2" fill="#add8e6" fill-opacity="0.45" stroke="none"/>
<polygon points="373.0,168.3 373.4,167.7 373.8,165.5 374.2,164.9 374.6,164.3 375.1,162.1 375.5,161.4 375.9,160.0 376.4,159.1 376.7,155.9 377.1,155.0 377.5,155.8 377.9,153.6 378.4,150.9 378.8,150.5 379.2,147.5 379.6,146.4 379.9,145.1 380.3,143.0 380.7,141.1 381.1,140.3 381.5,138.9 381.7,136.9 382.0,136.5 382.2,136.1 382.5,132.6 382.8,132.0 383.0,130.3 383.4,130.1 383.8,127.8 384.2,126.4 384.6,124.4 385.0,124.3 385.3,122.8 385.7,120.7 386.1,120.3 386.6,117.6 387.0,116.6 387.5,116.9 387.9,113.9 388.4,112.6 388.9,111.1 389.4,111.6 389.9,110.8 391.0,106.9 392.2,106.0 393.4,104.0 394.7,102.2 396.0,100.4 397.1,99.3 398.2,97.5 399.6,98.1 400.8,95.6 402.0,95.7 403.2,95.3 404.4,94.8 405.7,93.7 406.8,93.4 408.0,93.8 409.1,91.5 410.2,91.1 411.5,90.8 412.7,91.4 414.0,90.2 415.2,89.6 416.4,88.5 417.6,88.2 418.8,89.1 420.0,87.7 421.5,88.0 423.0,87.2 424.5,87.1 426.0,86.7 427.5,88.2 429.0,87.4 430.5,87.0 432.0,86.3 433.5,87.7 435.0,86.9 436.5,85.7 438.0,85.7 439.6,87.4 441.1,85.8 442.7,85.9 443.9,85.0 445.1,86.8 446.3,85.1 447.5,85.8 449.0,86.0 450.5,85.4 452.1,84.9 453.4,84.5 454.7,85.3 456.0,84.1 457.6,84.7 459.1,85.3 460.4,84.9 461.6,84.0 463.8,83.2 466.0,81.2 467.1,82.1 468.1,81.8 469.1,79.7 470.2,78.2 471.1,78.6 472.1,77.5 473.0,77.7 474.0,76.6 474.9,75.0 475.9,74.4 476.7,73.4 477.6,72.9 478.6,71.9 479.5,71.0 480.5,68.9 481.6,69.2 482.5,66.6 483.3,66.2 484.2,66.1 485.2,63.8 486.1,64.3 487.1,62.6 488.1,61.7 489.0,60.1 490.0,59.9 491.2,59.1 492.4,56.5 493.3,57.3 494.3,56.4 495.1,54.3 495.9,53.2 497.1,52.1 498.0,50.4 500.0,117.1 499.5,119.1 498.8,120.4 497.7,121.8 496.0,122.1 494.7,123.4 493.4,124.1 492.2,123.4 491.1,124.3 490.0,125.4 488.8,125.8 487.6,126.9 486.5,127.3 484.9,126.9 483.4,128.1 482.2,127.6 481.0,129.4 479.0,131.1 477.0,131.2 475.0,131.7 472.8,131.8 470.6,132.9 468.3,133.3 466.0,134.3 463.8,135.6 461.6,135.8 460.3,136.1 459.1,136.3 457.5,135.3 456.0,135.5 454.7,135.7 453.4,136.1 452.1,137.3 450.5,135.3 449.0,136.1 447.5,135.5 446.3,136.2 445.1,135.1 443.9,135.1 442.7,136.7 441.1,135.7 439.6,135.5 438.0,136.8 436.5,137.0 435.0,136.7 433.4,134.7 431.9,135.5 430.4,136.7 428.8,135.6 427.3,135.4 425.8,135.2 424.3,134.9 422.9,135.5 421.4,134.4 420.0,135.8 418.6,134.9 417.3,136.7 415.9,135.7 414.6,135.4 413.2,136.0 411.9,136.7 410.7,134.9 409.5,134.7 408.2,136.2 406.6,136.7 405.0,134.6 403.7,135.3 402.4,135.5 400.2,135.1 398.3,136.4 396.3,138.3 394.2,138.1 393.1,138.3 392.0,138.9 390.1,142.0 388.5,141.1 387.6,142.3 387.1,144.6 386.7,144.5 386.0,146.1 385.4,147.5 384.8,148.6 384.0,151.2 383.3,150.6 382.7,153.3 382.2,154.8 381.7,155.9 380.8,156.2 380.0,158.2 379.1,159.3 378.2,160.6 377.1,163.4 376.1,163.7 375.2,165.1 374.3,165.4 373.0,169.0" fill="#e68c14" fill-opacity="0.3" stroke="none"/>
<polyline points="337.8,196.8 338.9,198.5 340.6,201.3 341.5,202.0 342.4,203.3 344.2,206.1 346.0,207.9 348.0,209.7 349.8,211.5 351.4,212.9 352.6,213.9 353.5,215.4 354.3,216.4 355.0,216.7 355.6,217.1 356.2,217.0 356.7,217.2 357.3,216.6 358.1,216.7 358.9,215.3 359.8,214.2 360.7,213.7 361.5,211.2 362.3,209.9 363.1,207.3 364.0,205.3 365.0,203.1 366.0,200.6 367.0,199.2 368.0,196.5 368.9,194.5 369.8,192.0 370.6,189.7 371.5,187.8 372.4,185.1 373.4,183.3 374.4,181.5 375.3,179.3 376.2,176.2 377.2,173.3 378.1,171.2 379.0,168.5 379.9,166.4 380.8,164.7 381.7,162.6 382.5,159.9 383.2,158.6 383.8,156.7 384.4,155.0 385.0,153.1 385.7,151.8 386.4,150.0 387.2,149.3 387.9,148.1 388.6,147.1 389.4,146.2 390.1,146.2 391.0,144.8 391.9,143.9 392.9,143.5 393.9,143.5 395.2,142.0 396.7,142.2 398.3,141.9 400.1,141.4 402.0,141.0 404.1,141.4 406.4,142.8 408.7,143.6 411.0,144.6 413.2,144.5 415.5,145.8 417.8,146.6 420.0,146.7 422.2,147.4 424.5,148.8 426.8,149.2 429.0,149.6 431.2,150.2 433.5,150.4 435.8,150.8 438.0,151.0 440.2,151.7 442.5,151.6 444.8,152.7 447.0,152.9 449.2,152.6 451.5,151.9 453.7,152.5 456.0,152.0 458.3,152.5 460.6,152.5 463.0,153.2 465.3,152.8 467.6,152.8 469.8,152.4 472.1,152.1 474.3,152.0 476.6,150.8 478.8,150.1 481.1,149.0 483.4,147.8 485.8,146.3 488.2,145.4 490.5,144.5 492.4,144.2 493.7,143.4 494.5,143.7 495.2,142.5 496.0,142.0 497.1,142.0 498.2,141.2 499.3,139.9 500.0,139.8" fill="none" stroke="#add8e6" stroke-width="4.0" stroke-linejoin="round" stroke-linecap="butt" />
<polyline points="335.2,160.6 335.3,161.8 335.4,164.6 335.5,165.2 335.6,167.4 335.7,169.9 335.9,171.0 336.0,173.0 336.2,174.4 336.4,177.4 336.6,179.4 336.8,180.2 337.0,182.0 337.3,184.4 337.5,186.0 337.8,188.0 338.4,189.8 339.0,192.0 339.7,193.0 340.5,194.6 341.3,195.9 342.1,198.0 343.0,199.3 344.0,200.7 345.0,202.3 346.1,202.6 347.2,203.8 348.3,205.2 349.3,207.5 350.3,208.3 351.3,210.0 352.2,211.6 353.0,213.1 353.7,213.5 354.3,214.2 355.0,215.8 355.7,216.4 356.5,217.1 357.3,216.9 358.0,217.6 358.6,217.7 359.1,218.2 359.7,218.9 360.7,218.5 362.2,217.2 364.1,215.1 366.1,213.8 368.0,212.9 369.9,211.0 371.8,210.2 373.6,209.8 375.3,208.4 376.9,207.7 378.3,206.7 379.7,206.4 381.0,205.0 382.2,203.4 383.2,202.1 384.4,201.8 385.7,199.9 387.3,199.5 389.1,197.6 391.0,196.9 393.0,195.8 395.1,195.6 397.4,194.3 399.7,194.4 402.0,194.7 404.2,194.4 406.5,196.0 408.8,196.7 411.0,197.4 413.2,198.0 415.5,198.7 417.8,198.9 420.0,199.9 422.2,199.6 424.5,199.4 426.8,200.8 429.0,200.9 431.2,200.0 433.5,200.2 435.8,199.9 438.0,200.6 440.2,199.8 442.5,200.7 444.8,199.6 447.0,200.2 449.2,200.9 451.5,200.7 453.7,200.4 456.0,200.5 458.2,201.7 460.4,201.1 462.7,201.6 465.3,202.2 466.8,202.0 468.4,201.8 470.1,203.0 471.8,203.1 473.5,203.1 475.1,202.5 478.0,203.0 480.2,203.2 482.1,201.9 483.7,200.8 485.2,200.9 486.7,199.3 488.0,198.8 489.3,197.4 490.6,197.2 492.0,195.4 493.4,193.3 494.7,191.2 496.0,189.2 497.2,187.5 498.3,185.8 499.3,183.5 500.0,183.3" fill="none" stroke="#800080" stroke-width="4.0" stroke-linejoin="round" stroke-linecap="butt" />
<polyline points="333.0,49.9 333.0,51.3 333.0,53.7 333.0,54.6 333.0,55.6 333.0,58.1 333.0,58.7 333.1,60.5 333.1,62.0 333.1,64.5 333.1,66.5 333.1,67.8 333.1,68.9 333.1,71.5 333.1,73.2 333.1,74.1 333.1,75.6 333.1,77.8 333.1,79.8 333.2,81.4 333.2,82.9 333.2,84.3 333.2,85.2 333.2,87.4 333.2,88.7 333.2,90.6 333.2,92.0 333.2,93.2 333.3,95.8 333.3,96.2 333.3,98.2 333.3,99.8 333.3,102.2 333.3,102.5 333.4,104.7 333.4,106.7 333.4,107.7 333.4,109.7 333.4,110.5 333.5,112.2 333.5,113.7 333.5,115.4 333.5,117.0 333.6,118.3 333.6,121.2 333.6,122.6 333.6,124.3 333.7,125.9 333.7,127.2 333.8,129.0 333.8,131.6 333.9,132.9 333.9,133.9 334.0,135.8 334.0,137.6 334.1,137.9 334.2,139.8 334.2,141.4 334.3,142.8 334.4,144.7 334.6,145.9 334.7,147.2 334.9,150.2 335.1,151.5 335.3,153.7 335.5,154.5 335.9,157.6 336.3,160.1 336.6,161.4 337.0,164.1 337.3,166.2 337.6,169.0 337.9,171.4 338.2,174.4 338.5,176.2 338.8,178.0 339.2,180.5 339.6,182.3 340.1,183.7 340.6,186.2 341.2,187.5 341.8,188.3 342.3,190.5 342.8,191.6 343.4,192.6 344.2,195.7 345.4,197.6 346.1,199.6 346.8,200.3 347.6,201.8 348.3,202.8 349.7,206.1 350.9,208.0 352.1,209.5 353.2,212.1 354.1,213.2 354.7,213.8 355.1,216.1 355.5,216.0 355.9,217.1 356.5,216.3 357.1,215.4 357.7,215.3 358.5,213.9 359.4,212.7 360.4,210.1 361.5,207.6 362.5,205.2 363.5,202.8 364.5,200.6 365.4,198.0 366.4,194.8 366.9,193.0 367.4,191.4 367.9,190.7 368.3,188.7 368.8,188.1 369.3,186.0 369.8,185.4 370.3,182.7 371.3,181.1 372.3,177.6 373.2,175.2 374.2,172.8 374.7,171.2 375.2,169.9 375.6,168.5 376.1,167.2 376.6,164.8 377.0,164.2 378.0,161.1 379.0,159.3 380.0,157.0 381.0,155.7 382.0,152.3 382.5,150.4 383.0,149.6 383.5,147.5 384.0,144.9 384.5,143.0 385.0,141.0 385.4,138.6 385.9,137.1 386.3,134.8 386.7,133.0 387.0,131.1 387.3,128.2 387.7,126.3 388.1,124.9 388.5,123.1 389.0,121.6 390.2,118.4 391.5,116.3 393.0,114.4 394.5,113.2 396.0,111.7 397.6,111.2 399.2,109.6 400.8,109.2 402.4,107.3 403.9,106.8 405.4,106.2 407.0,105.3 408.6,105.1 410.1,105.3 411.7,104.2 413.3,103.7 414.9,104.3 416.5,104.5 418.2,105.2 420.0,104.4 422.1,105.5 424.4,105.5 426.7,105.2 429.0,105.3 431.2,104.8 433.5,105.7 435.8,104.6 438.0,104.5 440.3,104.6 442.6,104.5 444.9,104.0 447.0,103.6 449.0,103.7 450.9,103.4 452.7,103.1 454.4,103.9 455.9,103.2 457.3,103.8 458.7,104.7 460.0,105.2 461.3,105.0 462.5,106.2 463.7,106.8 465.0,106.3 466.4,106.2 467.8,105.5 469.3,104.9 470.7,104.7 472.0,104.5 473.4,103.9 474.7,102.3 476.0,101.4 477.4,100.4 478.8,99.7 480.2,98.2 481.6,97.6 482.9,97.3 484.1,95.7 485.4,95.7 487.0,94.1 489.1,92.4 490.4,91.7 491.6,91.0 492.8,89.8 494.0,88.8 496.0,87.5 497.4,86.1 498.6,85.7 499.4,85.2 500.0,84.6" fill="none" stroke="#000080" stroke-width="4.0" stroke-linejoin="round" stroke-linecap="butt" />
<polyline points="331.8,50.0 331.8,51.6 331.8,53.0 331.8,54.9 331.9,55.9 331.9,58.0 331.9,59.4 331.9,61.1 331.9,62.8 331.9,64.1 332.0,66.2 332.0,67.8 332.0,69.1 332.0,71.2 332.0,72.7 332.0,74.4 332.0,75.7 332.1,77.6 332.1,78.9 332.1,80.5 332.1,82.2 332.1,83.7 332.1,85.7 332.2,87.1 332.2,88.7 332.2,90.6 332.2,92.2 332.2,93.6 332.2,95.0 332.3,97.0 332.3,98.4 332.3,99.9 332.3,101.6 332.4,103.4 332.4,105.2 332.4,106.8 332.4,108.4 332.4,110.5 332.5,111.9 332.5,113.5 332.5,115.2 332.6,117.1 332.6,118.8 332.6,119.9 332.6,122.1 332.7,123.6 332.7,125.7 332.7,127.5 332.8,128.9 332.8,130.7 332.8,132.3 332.8,133.7 332.9,135.7 332.9,137.1 332.9,139.0 332.9,140.2 333.0,142.0 333.0,144.1 333.0,145.6 333.0,147.6 333.1,149.5 333.1,151.5 333.1,153.0 333.1,154.6 333.1,156.3 333.2,158.5 333.2,159.7 333.2,161.6 333.3,163.4 333.3,165.3 333.3,167.1 333.4,168.9 333.4,170.3 333.4,172.0 333.5,173.4 333.5,175.1 333.6,177.0 333.7,179.5 333.8,181.3 333.9,183.3 334.0,185.0 334.2,186.7 334.3,188.3 334.5,189.6 334.8,192.1 335.2,194.8 335.5,197.3 336.0,199.2 336.6,201.3 337.4,203.2 338.3,204.7 339.4,206.4 340.5,208.0 341.7,209.6 343.0,210.7 344.4,212.0 345.7,212.8 347.0,214.3 348.4,215.1 349.7,215.8 350.9,216.3 351.8,216.8 352.6,216.9 353.3,217.1 354.1,216.7 354.9,216.7 355.7,215.5 356.5,214.6 357.3,213.2 358.2,211.1 359.2,209.2 360.2,206.8 361.2,204.0 362.2,201.3 363.1,199.1 364.1,196.3 365.1,193.3 365.6,192.3 366.1,190.8 366.6,189.6 367.1,187.9 367.5,186.3 368.0,184.6 368.5,183.2 369.0,182.1 370.0,179.5 371.0,176.7 371.9,174.3 372.9,171.4 373.4,169.8 373.9,168.5 374.4,166.9 374.9,165.8 375.4,163.9 375.9,162.4 376.7,160.0 377.3,158.3 377.7,156.4 378.1,154.8 378.8,152.9 379.3,151.1 379.8,149.9 380.4,147.8 381.0,145.8 381.6,144.3 382.3,142.2 382.9,140.4 383.5,138.8 384.1,136.8 384.7,135.1 385.3,133.4 385.9,131.8 386.4,130.5 387.0,129.0 387.6,127.2 388.2,125.7 389.3,123.5 390.4,121.3 391.6,119.9 392.9,118.1 394.3,116.8 395.9,115.3 397.5,114.5 399.2,113.7 400.9,112.7 402.7,112.7 404.6,112.0 407.0,112.2 409.8,112.1 411.3,112.0 412.9,111.7 414.6,111.9 416.3,112.0 418.1,111.6 420.0,111.8 422.1,111.4 424.2,111.2 425.7,111.5 427.3,111.2 428.8,111.2 430.4,110.6 431.9,110.7 433.5,110.3 435.0,110.4 436.5,110.2 438.0,109.9 439.5,109.7 441.0,109.4 442.4,108.8 443.9,108.7 445.4,108.5 446.9,108.0 448.9,107.2 451.0,106.8 452.7,106.5 454.4,106.1 456.9,106.5 458.6,107.0 460.1,107.8 461.7,108.3 463.5,108.4 465.2,107.8 467.1,107.0 469.0,106.6 471.1,105.6 473.4,104.1 475.7,102.3 478.0,101.0 480.2,99.5 482.5,98.5 484.8,97.3 487.0,95.7 489.4,93.8 490.6,93.0 491.8,91.7 494.1,89.9 496.0,88.1 497.4,86.9 498.6,86.0 499.4,85.5 500.0,84.9" fill="none" stroke="#ffa500" stroke-width="4.0" stroke-linejoin="round" stroke-linecap="butt" />
</g>
<g clip-path="url(#cC)">
<polygon points="338.5,359.6 338.6,361.5 338.8,361.3 338.9,364.8 339.0,365.7 339.2,367.5 339.3,367.1 339.5,368.3 339.6,369.3 339.8,371.0 339.9,371.9 340.1,374.7 340.2,375.2 340.4,377.5 340.5,378.6 340.7,379.2 341.0,380.3 341.2,382.3 341.4,382.9 341.6,385.7 341.9,385.9 342.2,387.5 342.5,390.9 342.8,391.3 343.0,394.0 343.5,396.4 344.0,396.4 344.6,394.1 345.0,392.5 345.3,391.3 345.5,391.2 345.8,389.3 346.0,387.5 346.2,385.4 346.3,384.8 346.5,383.5 346.6,381.3 346.8,380.4 346.9,379.2 347.0,378.1 347.2,377.0 347.3,375.8 347.5,375.1 347.6,372.3 347.8,370.4 348.0,369.5 348.3,368.0 348.6,367.5 348.8,365.9 349.3,364.1 349.8,362.1 350.7,362.6 351.6,363.2 352.1,364.6 352.6,366.1 352.9,367.9 353.2,367.4 353.5,369.3 353.7,371.3 353.8,373.1 354.0,374.0 354.2,375.3 354.3,376.2 354.5,377.4 354.6,380.3 354.7,382.0 354.9,382.2 355.0,383.5 355.1,384.1 355.3,386.6 355.4,387.0 355.6,389.3 355.7,389.8 355.9,391.6 356.0,393.9 356.2,394.0 356.4,395.9 356.6,396.8 356.8,398.6 357.0,401.0 357.2,401.4 357.4,403.9 357.6,403.9 357.8,405.4 358.0,407.2 358.2,408.1 358.4,409.7 358.6,410.0 358.8,410.6 359.0,412.8 359.2,413.2 359.4,414.9 359.6,417.0 359.8,418.4 360.0,420.2 360.2,421.1 360.5,422.2 360.8,423.1 361.0,424.8 361.5,425.9 362.0,427.0 363.0,427.5 363.5,426.1 364.0,423.8 364.3,423.4 364.7,421.5 365.0,419.5 365.2,419.5 365.5,416.2 365.7,415.5 366.0,414.3 366.2,413.8 366.3,411.5 366.5,412.0 366.7,408.6 366.9,408.2 367.1,407.0 367.4,406.4 367.6,403.9 367.8,402.4 368.0,402.6 368.3,401.2 368.6,399.3 368.9,398.6 369.3,395.9 369.6,394.6 369.9,393.3 370.3,391.0 370.6,391.3 371.0,388.1 371.3,386.7 371.7,387.4 372.0,384.9 372.3,382.8 372.7,383.3 373.0,380.3 373.3,379.6 373.7,377.3 374.0,376.4 374.3,375.9 374.7,375.2 375.0,372.6 375.3,373.0 375.7,371.5 376.0,370.4 376.4,369.7 376.8,367.2 377.3,364.6 377.7,363.5 378.1,364.1 378.5,361.0 379.0,360.1 379.5,359.7 380.0,358.6 380.6,357.2 381.2,355.2 381.9,353.2 382.4,353.5 382.9,350.2 383.4,349.7 383.9,350.3 384.6,347.0 385.3,347.2 386.0,345.2 386.6,344.1 387.3,342.9 387.9,341.3 388.6,341.2 389.2,338.2 389.9,337.7 390.6,337.8 391.3,336.6 392.0,335.3 392.8,334.4 393.6,332.4 394.4,332.1 395.3,331.0 396.2,330.6 397.0,328.1 397.8,327.3 398.5,326.5 399.3,325.2 400.0,325.5 400.7,323.9 401.4,321.9 402.1,322.9 402.8,320.9 403.5,320.6 404.3,319.3 405.1,317.3 405.8,315.9 406.6,315.3 407.4,315.1 408.1,313.8 408.8,313.1 409.5,311.2 410.3,310.1 411.0,308.5 411.8,308.2 412.6,307.3 413.4,306.9 414.1,306.1 415.1,305.3 416.1,302.8 417.1,302.7 418.0,300.5 419.0,300.3 420.0,300.2 421.5,297.9 423.0,299.1 424.5,297.7 426.0,296.3 427.5,296.3 429.0,296.6 430.5,294.7 432.0,296.3 433.5,295.4 435.0,294.9 436.5,293.9 438.0,294.8 439.5,293.7 441.0,293.2 442.5,295.0 444.0,293.7 445.5,294.7 447.0,294.0 448.5,294.2 450.0,293.8 451.5,294.9 453.0,294.8 454.5,293.8 456.0,294.1 457.6,293.2 459.1,294.5 460.7,293.1 462.3,293.1 463.6,292.6 465.0,291.0 467.0,290.7 468.6,290.8 470.0,289.2 471.4,287.2 472.7,285.6 474.0,285.9 475.4,284.2 476.7,282.8 478.0,279.2 478.6,279.0 479.1,277.7 479.6,276.5 480.1,275.1 480.6,274.6 481.0,273.2 481.1,270.5 481.2,269.0 481.2,267.8 481.3,267.9 482.1,266.9 483.0,265.4 484.3,264.5 485.6,264.7 486.9,264.8 488.3,263.4 489.6,265.3 491.0,265.3 492.4,263.2 493.8,263.7 495.2,263.8 496.4,265.4 497.6,265.6 498.8,265.9 500.0,264.8 500.8,266.1 499.4,266.9 498.7,267.7 498.0,270.3 497.6,271.8 497.3,274.2 497.0,275.7 496.7,276.2 496.4,276.4 496.1,279.1 495.7,281.5 495.4,281.9 495.1,283.5 494.7,284.4 494.4,285.5 494.1,286.6 493.7,287.4 493.3,289.3 493.0,291.4 492.6,292.6 492.2,292.1 491.9,293.7 491.5,294.6 491.2,295.8 490.8,296.8 490.5,299.8 490.1,299.8 489.8,302.1 489.4,303.8 489.1,303.4 488.7,304.9 488.4,305.7 488.0,306.9 487.7,310.2 487.4,311.1 487.0,312.5 486.7,311.8 486.4,313.5 486.0,315.1 485.6,315.2 485.2,317.8 484.8,319.6 484.4,321.0 484.0,322.1 483.5,322.0 483.0,324.4 482.6,324.3 482.1,326.1 481.6,326.5 481.1,327.6 480.6,328.7 480.1,330.4 479.7,332.5 479.2,333.1 478.6,333.3 478.1,334.6 477.5,335.9 477.0,336.4 476.1,337.9 475.3,341.3 473.8,342.7 472.3,343.4 470.8,342.4 469.4,343.0 467.7,342.7 466.7,342.0 465.7,339.7 464.6,339.0 463.5,338.5 462.2,336.4 460.8,336.4 459.6,334.6 458.5,335.8 457.3,333.8 456.0,333.6 454.6,333.9 453.3,333.2 452.0,333.7 450.6,332.4 449.3,331.0 447.9,330.4 446.6,331.5 445.2,331.0 443.8,329.5 442.4,330.7 441.1,329.4 439.4,328.7 437.7,328.5 435.7,329.3 434.5,330.8 433.0,331.6 431.8,332.2 430.6,334.2 429.7,333.7 428.8,336.5 427.9,337.4 427.0,337.8 426.0,337.9 425.1,339.8 424.2,342.0 423.2,343.0 422.3,343.6 421.4,344.4 420.4,346.1 419.4,345.4 418.4,347.8 417.4,348.8 416.4,349.6 415.3,349.0 414.2,350.8 413.1,350.2 411.9,351.5 410.7,353.7 409.6,352.8 408.5,354.9 407.4,354.8 406.3,357.5 405.3,358.6 404.3,359.8 403.2,360.0 402.3,362.3 401.3,361.5 400.4,363.7 399.6,363.7 398.8,366.1 398.0,368.2 397.2,369.0 396.4,370.5 395.8,372.1 395.2,373.2 394.5,374.0 393.8,375.7 392.9,375.7 392.0,377.4 391.3,379.5 390.7,380.6 390.0,380.8 389.0,382.4 388.0,383.6 387.0,386.1 386.0,386.6 385.0,387.6 384.0,388.7 383.0,390.6 382.0,392.9 381.0,392.7 379.9,393.5 378.9,395.6 377.9,396.8 376.9,399.5 376.0,400.1 375.3,401.7 374.5,402.6 373.9,404.5 373.3,406.5 372.8,407.6 372.4,408.7 372.0,411.1 371.6,411.5 371.1,412.1 370.7,414.3 370.2,414.2 369.8,415.5 369.3,417.4 368.9,419.2 368.4,420.9 368.0,421.1 367.7,423.7 367.3,425.7 367.0,425.4 366.7,427.1 366.3,428.8 366.0,430.9 365.7,432.4 365.3,433.4 364.9,434.5 364.4,434.9 364.0,437.1 362.7,437.7 361.3,437.7 360.0,436.1 359.5,436.4 359.1,433.5 358.6,431.8 358.4,432.0 358.1,430.0 357.8,428.0 357.5,428.0 357.3,427.5 357.0,423.9 356.8,425.0 356.5,422.7 356.3,421.9 356.0,420.3 355.8,418.6 355.6,417.3 355.3,417.0 355.1,415.1 354.9,414.6 354.7,413.0 354.5,412.4 354.3,410.2 354.1,408.7 353.9,407.7 353.7,406.9 353.5,406.1 353.4,404.6 353.2,402.1 353.0,403.2 352.9,400.6 352.7,398.5 352.6,398.9 352.4,396.1 352.3,394.5 352.1,395.3 352.0,393.3 351.9,392.2 351.8,390.4 351.6,388.5 351.4,389.0 351.2,385.3 351.0,384.7 350.3,383.5 349.7,382.9 349.0,383.2 348.8,385.2 348.6,386.2 348.4,387.9 348.2,388.8 348.1,389.8 348.0,392.9 347.8,394.1 347.7,394.2 347.5,395.2 347.4,397.9 347.2,398.7 347.0,400.9 346.7,401.5 346.5,402.7 346.2,404.6 345.9,406.1 345.6,407.7 345.4,408.1 344.5,410.0 343.6,410.5 342.8,409.0 342.0,407.2 341.6,407.3 341.3,405.4 341.0,403.5 340.6,402.2 340.4,400.1 340.2,398.4 340.0,397.5 339.8,396.7 339.7,395.3 339.5,394.7 339.3,392.2 339.2,391.8 339.0,389.7 338.9,390.1 338.7,388.1 338.6,386.4 338.5,384.9 338.4,384.0 338.2,381.8 338.1,381.7 338.0,381.0 337.9,379.5 337.8,376.8 337.7,376.8 337.6,374.4 337.5,374.7 337.4,372.5 337.4,371.4 337.3,370.0 337.2,369.5 337.1,368.6 337.0,365.9 337.0,366.3 336.9,363.3 336.9,361.5 336.8,362.1 336.8,361.0 337.2,357.7 338.0,358.1 338.5,359.6" fill="#000080" fill-opacity="0.35" stroke="none"/>
<polygon points="349.0,371.2 349.4,370.6 349.8,369.7 350.1,367.1 350.5,366.0 350.9,364.3 351.4,363.7 352.0,362.3 353.0,362.8 353.5,364.7 354.0,365.5 354.5,366.3 355.0,367.8 355.5,369.8 356.0,371.5 356.3,371.9 356.6,374.2 356.9,374.7 357.5,376.9 358.0,377.3 358.6,378.9 359.3,379.7 359.9,381.5 360.6,382.2 362.0,383.7 363.3,384.0 364.7,384.8 366.0,383.2 366.7,381.6 367.3,380.7 368.0,378.5 368.7,378.3 369.1,377.1 369.6,375.3 370.0,373.4 370.4,373.6 370.9,371.0 371.3,369.4 371.8,368.7 372.2,367.3 372.7,366.7 373.1,364.1 373.6,362.6 374.0,361.9 374.4,359.8 374.9,359.6 375.3,358.0 375.7,357.3 376.2,356.1 376.6,353.5 377.1,353.2 377.5,351.3 378.0,350.8 378.5,347.9 379.0,347.2 379.6,346.8 380.1,343.8 380.7,342.9 381.2,341.5 381.8,340.3 382.4,340.2 383.0,337.4 383.6,337.4 384.3,335.2 384.9,335.1 385.6,332.7 386.3,331.5 387.0,332.0 387.6,329.2 388.3,329.3 389.0,327.5 390.0,326.7 391.0,324.8 392.0,324.1 393.0,322.8 394.0,321.7 395.0,319.3 395.9,319.4 396.9,317.2 397.8,316.7 398.7,316.0 399.9,314.7 401.0,313.1 402.0,312.0 403.0,310.4 404.1,310.8 405.2,309.2 406.4,308.5 407.6,307.8 408.7,306.3 409.9,304.6 411.0,304.0 412.0,302.5 413.0,301.8 414.1,302.0 415.1,300.8 416.0,299.1 417.0,298.9 418.5,297.8 420.0,297.6 421.5,297.0 423.0,295.6 424.5,294.8 426.0,294.7 427.5,295.2 429.0,294.8 430.5,294.2 432.0,295.6 433.5,295.5 435.0,295.2 436.5,294.9 438.0,295.7 439.5,296.3 441.0,295.6 442.5,295.8 444.0,295.9 445.5,296.0 447.0,297.2 448.5,297.5 450.0,297.6 451.5,297.1 453.0,297.3 454.5,296.7 456.0,298.1 457.6,297.3 459.1,296.5 460.7,295.9 462.2,295.8 463.6,295.4 465.0,295.4 466.1,293.4 467.3,293.9 468.3,291.9 469.3,290.7 470.1,290.4 471.0,288.4 471.8,288.5 472.5,286.7 473.2,285.3 473.8,283.4 474.4,282.3 475.0,280.6 475.3,278.7 475.6,276.5 476.0,276.1 476.2,275.1 476.5,272.3 476.8,271.6 477.4,268.9 478.0,268.6 479.1,267.4 480.1,266.7 481.3,266.8 482.6,266.6 484.0,268.3 483.9,269.9 483.7,271.1 483.4,273.3 483.1,273.2 482.7,275.6 482.4,276.2 482.1,276.8 481.7,278.3 481.4,279.8 481.0,280.3 480.6,282.5 480.2,284.4 479.8,285.3 479.3,286.3 478.9,287.6 478.4,288.6 478.0,290.2 477.5,291.2 477.0,292.0 476.2,294.0 475.5,295.3 474.7,295.6 473.9,297.1 472.9,298.7 472.0,299.7 470.9,301.2 469.9,301.7 468.7,302.7 467.6,303.4 466.3,304.3 465.0,304.1 463.6,304.0 462.1,305.8 460.6,304.9 459.1,306.0 457.5,305.3 456.0,305.8 454.5,306.3 453.0,306.8 451.5,306.7 450.0,306.6 448.5,305.6 447.0,305.9 445.5,305.9 444.0,305.4 442.5,305.7 441.0,305.0 439.5,305.0 438.0,304.7 436.5,304.1 435.0,305.4 433.5,304.4 432.0,304.2 430.5,304.4 429.0,303.6 427.5,303.4 426.0,304.5 424.5,304.1 423.0,304.3 421.5,305.4 420.0,305.8 419.0,307.4 418.0,307.3 417.0,308.7 416.0,309.3 414.9,309.9 413.9,310.6 413.0,310.7 412.0,312.8 411.0,312.4 409.6,314.7 408.2,316.1 406.9,317.0 405.6,318.1 404.7,318.8 403.9,319.1 403.0,320.5 402.2,321.4 401.4,322.3 400.6,323.1 399.8,324.5 399.0,325.9 398.2,325.9 397.5,328.0 396.7,329.6 396.0,329.3 395.3,332.0 394.6,332.9 393.9,333.2 393.3,334.5 392.6,335.3 392.0,336.1 391.3,337.4 390.7,339.7 390.0,339.2 389.3,341.2 388.6,342.1 388.0,344.0 387.3,345.9 386.6,346.7 385.9,347.3 385.3,350.0 384.6,350.4 384.0,352.6 383.6,353.8 383.1,353.9 382.7,354.8 382.2,357.3 381.8,358.4 381.4,358.4 381.0,360.8 380.6,361.8 380.2,361.9 379.8,362.9 379.4,365.0 379.0,365.7 378.6,366.6 378.3,367.5 377.9,369.2 377.6,369.9 377.3,371.1 376.9,372.6 376.6,374.3 376.3,375.7 375.9,376.7 375.4,378.0 375.0,380.1 374.6,381.6 374.1,382.7 373.7,384.4 373.3,385.9 372.8,388.0 372.4,387.8 371.9,390.3 371.5,391.4 371.0,391.8 370.2,393.6 369.4,395.3 368.5,396.1 367.6,397.1 366.0,397.3 364.6,398.4 363.3,398.6 362.0,399.9 360.7,397.7 359.3,396.7 358.0,395.4 357.3,394.2 356.6,391.9 355.9,391.3 355.3,388.7 354.6,388.1 354.0,385.4 353.4,385.7 352.9,383.0 351.9,382.7 351.0,379.8 350.6,378.9 350.2,377.7 349.8,376.5 349.5,374.9 349.0,372.6" fill="#add8e6" fill-opacity="0.45" stroke="none"/>
<polygon points="346.0,436.5 346.1,435.7 346.3,434.5 346.4,433.0 346.6,431.9 346.7,430.2 346.9,428.8 347.0,426.7 347.1,425.2 347.3,424.2 347.4,424.2 347.5,421.1 347.6,420.6 347.7,419.4 347.8,418.4 347.9,416.7 348.0,416.4 348.1,415.2 348.1,413.1 348.2,410.9 348.3,411.3 348.3,410.0 348.4,407.8 348.5,407.3 348.5,406.3 348.6,405.2 348.6,402.2 348.7,400.9 348.7,401.0 348.8,398.5 348.8,397.2 348.8,395.4 348.9,395.9 348.9,393.3 348.9,391.9 348.9,391.7 348.9,389.2 348.9,389.6 348.9,386.6 348.9,387.5 348.9,384.2 348.9,382.9 349.0,382.4 349.0,381.8 349.0,379.9 349.0,379.1 349.0,376.7 349.0,376.9 349.0,374.1 349.0,373.4 349.1,373.1 349.1,370.9 349.1,368.9 349.1,369.3 349.2,366.6 349.2,366.1 349.2,364.7 349.2,363.9 349.3,361.8 349.3,362.5 349.3,361.0 349.4,359.1 349.4,357.1 349.5,355.9 349.5,354.2 349.6,353.2 349.6,352.0 349.7,351.1 349.8,348.0 349.9,348.4 350.0,346.8 350.1,344.5 350.5,342.1 350.9,339.1 351.5,338.1 352.0,336.9 352.6,336.8 353.2,338.6 353.7,338.3 354.2,340.8 354.6,343.0 354.8,343.4 355.0,345.4 355.1,346.5 355.2,347.9 355.3,349.1 355.4,350.7 355.5,351.1 355.6,354.7 355.7,354.3 355.9,355.6 356.0,357.4 356.2,360.2 356.4,362.0 356.6,363.4 356.8,362.7 357.0,364.7 357.2,366.9 357.5,366.6 357.7,368.6 358.0,370.2 358.5,371.0 358.9,372.7 359.4,374.4 360.0,375.0 361.0,378.9 362.0,379.5 363.0,379.8 364.0,381.0 364.9,380.3 365.7,379.9 366.5,377.0 367.2,375.6 367.5,373.6 367.8,373.5 368.1,371.6 368.5,370.7 368.8,368.9 369.1,367.2 369.4,366.0 369.6,364.0 369.9,363.3 370.1,361.7 370.4,360.6 370.6,359.3 370.9,357.2 371.2,356.5 371.5,356.2 372.0,353.7 372.4,352.9 372.9,352.6 373.4,350.5 373.9,349.8 374.5,347.4 375.0,345.4 375.5,345.1 376.0,344.6 376.4,342.7 376.8,341.2 377.3,341.2 377.7,338.8 378.1,339.0 378.5,337.3 379.1,334.8 379.7,334.6 380.3,333.4 381.0,332.1 381.7,331.2 382.4,329.4 383.1,329.1 383.9,327.6 384.8,326.9 385.6,325.7 386.4,324.1 387.2,323.0 387.9,321.3 388.7,320.0 389.4,320.0 390.4,318.7 391.5,317.1 392.3,316.5 393.2,316.5 394.1,315.7 395.0,314.9 396.1,312.3 397.2,311.8 398.3,312.6 399.5,311.8 400.7,309.3 402.0,309.7 403.0,306.9 403.9,306.7 404.9,306.2 405.9,304.5 406.9,304.4 407.9,301.6 409.0,300.4 410.0,299.9 411.0,298.4 412.0,298.7 413.0,297.6 414.0,295.3 415.0,294.7 416.0,293.6 417.0,295.0 418.5,292.3 420.0,291.2 421.5,290.9 423.0,290.7 424.5,289.8 426.0,290.8 427.5,290.2 429.0,289.6 430.5,291.0 432.0,289.9 433.5,290.3 435.0,289.4 436.5,289.7 438.0,291.0 439.5,289.3 441.0,291.4 442.5,289.9 444.0,289.5 445.5,290.6 447.0,291.8 448.5,291.5 450.1,291.4 451.6,290.6 453.1,292.0 454.7,293.2 456.2,292.8 457.8,292.5 459.3,290.4 460.9,290.2 462.4,290.0 463.9,290.3 465.3,289.2 466.6,287.6 468.0,286.0 469.2,285.4 470.4,285.0 471.5,283.6 472.5,283.0 473.3,280.8 474.0,279.6 474.6,276.4 475.2,275.6 475.6,273.6 476.1,272.5 476.2,272.1 476.3,270.0 476.3,269.1 476.3,268.0 477.2,265.7 478.0,264.8 479.3,263.5 480.7,264.6 482.0,264.4 483.4,264.9 484.8,263.3 486.2,263.1 487.6,264.8 489.0,262.4 490.4,262.9 491.6,264.1 492.7,265.3 493.9,264.0 495.0,264.8 495.0,267.2 495.0,267.2 495.0,268.5 494.5,270.4 494.0,272.8 493.5,273.5 493.0,275.7 492.6,275.5 492.0,277.9 491.5,278.7 491.0,280.8 490.5,281.4 490.0,282.3 489.4,282.7 488.7,284.6 488.1,285.1 487.4,286.3 486.8,288.7 486.1,290.6 485.4,291.0 484.7,291.7 484.0,294.1 483.4,295.5 482.9,297.2 482.3,298.4 481.7,297.8 481.3,299.5 480.8,300.4 480.3,303.2 479.8,302.1 479.4,303.7 478.8,305.7 478.2,306.6 477.6,309.2 477.0,308.7 476.4,310.8 475.9,312.8 475.3,312.7 474.7,313.8 474.0,316.2 473.2,317.8 472.5,318.1 471.7,319.7 470.8,320.4 470.0,320.8 468.6,321.8 467.2,322.4 465.6,324.1 464.1,325.0 462.5,325.1 460.8,325.0 459.6,324.4 458.4,326.0 457.1,323.9 455.8,325.3 454.5,324.2 453.2,325.0 451.9,325.6 450.6,325.7 449.3,324.9 447.9,325.7 446.6,324.3 445.2,324.3 443.8,323.1 442.4,323.1 441.1,323.7 439.4,324.3 437.7,324.2 435.7,323.4 434.5,325.2 433.0,324.0 431.9,325.6 430.8,325.5 429.5,326.0 428.2,327.2 427.2,328.9 426.1,328.3 425.1,330.3 424.1,331.4 423.2,332.0 422.2,333.2 421.3,333.5 420.4,334.6 419.5,335.0 418.7,337.1 417.8,337.6 416.9,339.5 416.1,340.4 415.2,341.2 414.3,341.0 413.5,343.3 412.6,343.9 411.7,344.8 410.8,345.3 410.0,346.7 409.1,346.4 408.2,349.2 407.3,348.3 406.4,350.4 405.6,349.8 404.7,351.7 403.8,352.8 402.8,353.7 401.9,354.8 400.9,355.0 400.0,356.4 399.1,358.5 398.1,358.5 397.2,360.5 396.5,359.9 395.7,361.5 395.0,361.9 394.3,363.0 393.7,365.8 393.0,366.0 392.0,367.5 391.1,369.4 390.2,370.6 389.3,372.4 388.4,374.2 387.5,375.4 386.9,376.6 386.3,376.5 385.6,378.7 385.0,379.1 384.4,381.4 383.8,382.3 383.2,382.1 382.6,383.4 382.0,384.1 381.4,385.7 380.8,386.5 380.3,389.2 379.7,390.8 379.1,391.9 378.6,392.7 378.0,395.0 377.5,395.3 377.0,396.5 376.5,397.3 376.0,400.8 375.6,402.2 375.2,403.7 374.9,404.0 374.6,403.8 374.2,407.2 373.9,408.0 373.6,410.0 373.3,409.4 373.0,413.1 373.0,412.3 372.9,413.9 372.9,414.7 372.8,415.7 372.8,417.5 372.7,419.3 372.7,420.4 372.7,422.7 372.7,422.2 372.6,424.2 372.6,424.7 372.6,427.2 372.6,426.8 372.5,429.6 372.5,431.1 372.1,431.4 371.7,433.4 371.3,434.1 370.8,435.4 370.4,437.1 370.0,438.1 368.8,436.8 367.6,438.3 366.3,437.0 365.1,438.2 363.9,438.6 362.7,438.4 361.5,439.2 360.2,439.8 359.0,437.7 357.8,437.7 356.6,437.6 355.4,437.0 354.2,439.1 353.0,438.6 351.6,437.0 350.2,436.8 348.8,437.2 347.4,438.0 346.0,436.8" fill="#e68c14" fill-opacity="0.3" stroke="none"/>
<polyline points="336.0,300.0 336.0,301.6 336.0,303.3 336.1,304.7 336.1,306.8 336.1,307.7 336.1,309.6 336.2,311.6 336.2,313.0 336.2,315.0 336.2,316.0 336.3,317.7 336.3,319.3 336.3,320.7 336.3,322.3 336.4,324.4 336.4,325.8 336.4,327.7 336.4,329.7 336.5,331.3 336.5,332.7 336.5,333.8 336.5,335.5 336.6,337.6 336.6,338.5 336.6,340.7 336.6,341.7 336.7,343.5 336.7,345.2 336.7,347.3 336.8,348.7 336.8,350.4 336.8,351.6 336.9,353.2 336.9,355.4 336.9,356.8 337.0,358.6 337.0,359.6 337.0,361.2 337.1,363.2 337.1,364.7 337.2,366.3 337.2,368.5 337.3,370.2 337.3,371.1 337.4,372.7 337.4,374.4 337.5,376.1 337.6,378.3 337.6,379.6 337.7,381.9 337.8,382.6 337.8,384.9 337.9,386.3 338.0,388.7 338.1,390.0 338.2,391.5 338.2,393.4 338.3,395.2 338.4,395.9 338.5,397.7 338.6,400.1 338.7,401.3 338.8,402.7 339.0,405.2 339.1,407.2 339.3,408.5 339.4,410.2 339.6,411.7 339.8,414.0 340.0,415.7 340.1,417.2 340.3,418.7 340.5,419.9 340.7,421.3 340.9,423.1 341.1,424.8 341.4,426.5 341.8,428.6 342.1,430.2 342.4,432.3 343.0,434.5 343.5,434.4 344.0,434.6 344.5,432.9 345.0,429.9 345.2,427.9 345.5,426.4 345.7,424.6 345.8,423.0 346.0,421.8 346.2,419.9 346.3,417.8 346.5,415.7 346.7,413.5 346.8,411.5 347.0,410.3 347.1,408.2 347.2,407.1 347.4,405.2 347.5,403.6 347.6,402.4 347.8,400.2 347.9,398.4 348.0,397.7 348.1,395.5 348.2,393.8 348.4,392.6 348.5,390.4 348.7,389.1 348.8,386.6 349.0,385.2 349.2,383.6 349.3,381.3 349.5,380.0 349.8,378.2 350.0,375.6 350.2,373.8 350.5,371.7 351.0,369.7 351.5,370.1 351.9,371.1 352.4,372.6 353.0,375.2 353.3,376.2 353.7,378.6 354.1,380.3 354.4,382.4 354.8,384.6 355.2,386.1 355.6,388.4 356.0,390.0 356.4,391.3 356.7,392.6 357.4,395.8 358.2,397.6 359.0,399.7 359.9,401.9 360.9,403.8 362.0,405.2 363.0,405.7 364.0,406.3 365.1,404.6 366.1,404.0 367.0,402.3 367.8,400.0 368.5,397.4 369.2,395.3 369.6,393.7 370.0,391.7 370.4,390.8 370.9,388.9 371.4,386.7 371.8,385.7 372.3,383.3 372.8,381.2 373.3,380.3 373.8,378.3 374.3,376.2 374.8,374.6 375.3,372.8 375.9,371.0 376.4,368.8 376.9,367.6 377.5,365.6 378.0,363.7 378.5,362.1 379.1,360.3 379.6,358.1 380.1,356.5 380.7,354.8 381.2,352.9 381.9,351.5 382.5,349.6 383.2,348.6 383.9,347.0 385.5,344.5 387.2,342.5 388.8,340.1 390.4,337.3 392.0,335.1 393.5,333.5 395.1,331.2 396.7,329.1 398.2,327.5 399.7,325.8 401.3,323.7 402.9,321.2 403.7,320.2 404.5,319.4 405.3,317.3 406.1,316.0 407.6,313.7 409.1,311.7 410.5,309.2 412.0,307.5 413.5,305.7 415.1,304.4 416.7,303.4 418.3,303.0 420.0,302.5 421.6,300.8 423.1,300.3 424.8,300.1 427.0,299.6 429.9,299.6 431.6,300.2 433.3,300.1 435.1,301.0 436.9,300.6 438.6,300.9 440.4,301.9 442.2,301.8 443.9,302.4 445.7,302.8 447.5,303.0 449.2,303.1 450.9,303.0 453.8,303.4 456.0,303.0 457.7,303.3 459.2,303.0 460.6,301.5 462.1,301.5 463.4,301.3 464.7,300.8 466.0,299.4 467.3,298.5 468.5,297.4 469.6,296.0 470.7,294.7 471.6,293.7 472.4,291.4 473.2,289.5 474.0,287.1 475.0,284.8 476.0,283.7 477.0,282.5 478.0,280.2 479.1,278.0 479.7,275.7 480.2,274.5 481.3,271.8 482.0,269.9" fill="none" stroke="#add8e6" stroke-width="4.0" stroke-linejoin="round" stroke-linecap="butt" />
<polyline points="356.0,370.1 356.4,370.9 356.9,371.4 357.5,372.7 358.0,373.4 358.5,374.4 359.0,375.6 359.5,376.3 360.0,378.5 360.5,379.2 361.0,380.7 361.5,381.4 362.0,382.8 362.5,384.5 363.1,384.7 363.6,385.6 364.0,386.5" fill="none" stroke="#800080" stroke-width="4.0" stroke-linejoin="round" stroke-linecap="butt" />
<polyline points="376.7,386.7 378.0,385.5 379.0,383.2 379.9,382.4 381.0,380.6 382.0,380.1 384.0,377.3 385.9,375.8 387.9,375.0 389.7,372.7 391.2,371.8 392.1,371.3 392.5,371.6 392.9,370.7 393.8,370.2 395.4,369.5 397.3,367.3 399.4,366.2 401.3,364.6 403.0,364.5 404.5,362.4 406.1,362.6 407.6,361.2 409.2,360.8 410.8,359.6 412.3,360.1 413.9,358.6 415.4,358.1 416.8,358.0 418.3,356.8 420.0,356.2 422.0,356.2 424.3,357.6 426.7,358.1 429.0,358.9 431.3,359.9 433.7,361.8 436.0,362.2 438.2,363.9 440.1,365.9 441.8,367.0 443.5,368.1 445.4,368.9 447.5,369.1 449.8,369.5 452.1,369.1 454.4,369.3 456.7,367.2 459.0,365.5 461.2,363.8 463.5,362.0 465.8,361.6 468.1,360.7 470.3,359.1 472.3,358.3 474.0,357.8 475.6,355.5 477.0,354.5 478.5,352.3 480.1,349.8 481.7,348.5 483.2,345.6 484.6,342.6 485.8,340.9 486.9,338.4 488.0,336.9 489.0,333.3 489.5,332.4 490.1,331.2 490.6,329.7 491.2,327.2 491.7,325.5 492.2,324.3 492.7,322.9 493.1,321.1 493.5,319.1 493.8,317.8 494.1,317.0 494.4,315.2 494.9,313.0 495.4,309.0 495.9,307.0 496.3,304.2 496.7,301.6 497.0,299.4" fill="none" stroke="#800080" stroke-width="4.0" stroke-linejoin="round" stroke-linecap="butt" />
<polyline points="335.8,270.3 335.8,272.4 335.9,273.2 335.9,275.0 335.9,278.0 336.0,278.7 336.0,280.1 336.0,282.0 336.1,283.6 336.1,285.4 336.1,286.7 336.2,288.2 336.2,290.1 336.2,291.2 336.2,293.1 336.3,295.2 336.3,296.7 336.3,298.2 336.4,299.3 336.4,302.0 336.5,302.6 336.5,305.3 336.5,306.2 336.6,308.3 336.6,310.2 336.6,311.7 336.7,312.8 336.7,314.8 336.8,316.7 336.8,318.3 336.8,319.7 336.9,321.3 336.9,323.6 337.0,325.0 337.0,326.5 337.0,327.7 337.1,330.4 337.1,332.5 337.2,334.0 337.2,335.3 337.3,337.1 337.3,338.6 337.4,339.6 337.5,341.7 337.5,343.4 337.6,344.5 337.7,346.5 337.8,348.4 337.9,350.2 338.0,351.8 338.1,354.6 338.3,356.5 338.4,357.6 338.6,358.8 338.7,361.2 338.9,362.8 339.0,363.5 339.2,366.2 339.4,366.9 339.6,369.6 339.8,371.1 339.9,373.1 340.1,374.4 340.3,375.5 340.5,377.6 340.7,379.6 340.9,380.7 341.1,382.6 341.3,383.9 341.5,386.0 341.7,387.1 341.9,388.6 342.1,389.8 342.3,392.8 342.6,394.4 342.8,396.4 343.0,397.9 343.2,400.3 343.4,402.1 343.8,404.0 344.3,403.1 344.9,401.1 345.5,397.5 345.8,396.1 346.1,394.6 346.4,392.0 346.7,389.8 346.9,388.1 347.1,386.7 347.2,384.8 347.4,383.7 347.6,382.0 347.8,379.5 348.1,377.7 348.4,375.8 349.0,373.6 349.5,371.3 350.1,369.4 350.7,369.4 351.3,368.9 351.9,370.1 352.4,373.2 352.7,373.9 353.0,376.3 353.2,377.9 353.4,378.9 353.5,380.3 353.7,381.9 353.9,383.9 354.0,386.9 354.2,388.4 354.3,389.1 354.4,391.0 354.6,393.0 354.7,394.1 354.9,395.3 355.0,397.9 355.2,399.0 355.5,400.6 355.7,403.3 356.0,404.7 356.2,407.0 356.4,408.1 356.7,409.9 356.9,410.8 357.2,413.0 357.5,415.1 357.8,416.8 358.1,418.5 358.4,420.2 358.7,422.4 359.0,423.8 359.3,424.8 359.6,426.2 360.0,428.9 360.4,430.7 360.8,432.1 361.2,433.8 362.1,435.3 363.0,434.8 363.9,433.0 364.3,431.3 364.7,429.4 365.2,428.6 365.6,426.2 366.0,424.9 366.5,422.6 366.7,421.3 367.0,419.3 367.3,418.0 367.6,415.8 367.9,414.4 368.1,412.6 368.4,410.4 368.7,410.0 369.0,408.3 369.4,405.6 369.9,404.4 370.3,402.6 370.8,401.3 371.2,399.1 371.6,397.0 372.1,395.9 372.5,394.3 372.9,392.9 373.3,391.2 374.1,387.9 374.9,385.6 375.4,383.9 375.9,383.3 376.5,381.0 377.1,380.2 377.8,377.8 378.4,376.1 379.1,374.1 379.8,373.4 380.6,371.0 381.3,370.3 382.0,368.9 382.8,367.4 384.3,364.6 385.9,362.9 387.5,360.4 389.1,357.7 390.6,356.1 392.2,353.0 393.8,351.7 395.4,348.7 397.0,347.0 398.5,345.0 400.1,343.1 401.7,340.1 403.2,339.0 404.7,337.2 406.3,335.2 407.8,333.1 409.4,332.5 410.9,330.0 412.6,329.0 414.3,326.3 416.1,324.9 418.0,321.7 420.0,320.1 422.1,317.9 424.4,316.4 426.7,314.9 429.0,313.3 431.2,312.6 433.5,312.1 435.7,312.0 438.0,311.9 440.3,311.2 442.6,311.6 444.9,311.9 447.2,311.9 449.5,311.9 451.8,313.0 454.1,312.8 456.2,314.0 458.2,314.1 460.1,315.7 461.8,316.9 463.5,317.6 465.0,317.9 466.5,318.1 467.8,318.9 469.0,318.8 470.0,318.0 470.8,317.4 471.5,316.6 472.5,314.6 473.7,312.6 474.4,310.6 475.1,308.8 475.9,306.7 476.6,305.2 477.3,303.7 478.0,301.7 478.7,300.3 479.4,298.5 480.1,297.3 480.8,295.6 481.4,294.5 482.1,292.8 482.8,291.2 483.4,289.7 484.0,287.2 484.7,286.3 485.3,284.6 485.9,282.5 486.5,280.3 487.1,278.8 488.0,276.2 488.6,275.5 489.1,274.1 489.4,273.8 489.7,272.4 490.1,271.8 490.5,270.3 490.8,268.5 491.0,267.6" fill="none" stroke="#000080" stroke-width="4.0" stroke-linejoin="round" stroke-linecap="butt" />
<polyline points="334.0,269.8 334.0,271.9 334.1,273.5 334.1,275.8 334.1,277.2 334.1,278.9 334.1,280.6 334.2,282.3 334.2,283.6 334.2,285.2 334.2,286.6 334.3,288.3 334.3,289.6 334.3,291.6 334.3,293.2 334.4,294.8 334.4,296.4 334.4,297.8 334.4,299.8 334.5,301.4 334.5,303.2 334.5,304.9 334.5,306.8 334.6,308.4 334.6,310.1 334.6,311.5 334.7,313.4 334.7,315.4 334.7,316.7 334.8,318.3 334.8,320.1 334.8,321.5 334.9,323.5 334.9,325.0 334.9,326.3 335.0,328.6 335.0,330.1 335.1,331.8 335.1,334.0 335.2,335.1 335.2,336.7 335.3,338.4 335.3,340.2 335.4,341.5 335.4,343.3 335.5,344.7 335.6,346.6 335.6,348.5 335.7,350.5 335.8,352.2 335.9,354.2 336.0,355.8 336.1,357.5 336.1,358.9 336.2,360.8 336.3,362.1 336.4,364.2 336.4,365.7 336.5,367.4 336.6,368.8 336.7,370.9 336.7,372.5 336.8,373.9 336.9,376.2 337.0,377.5 337.1,379.9 337.1,381.3 337.2,383.2 337.3,385.3 337.4,386.9 337.5,389.3 337.5,391.3 337.6,392.8 337.8,395.2 337.9,397.0 338.0,398.9 338.2,400.9 338.3,403.0 338.5,405.1 338.6,406.4 338.7,407.7 338.9,409.5 339.0,410.9 339.2,412.8 339.4,414.7 339.6,416.8 339.8,418.3 340.1,420.3 340.3,421.8 340.6,423.5 340.8,424.8 341.1,426.4 341.4,428.1 341.7,429.4 342.0,431.0 342.5,432.4 343.0,434.4 343.8,435.6 344.6,434.1 344.9,432.6 345.2,430.8 345.5,429.2 345.7,427.9 345.9,426.4 346.1,424.8 346.3,423.1 346.5,422.1 346.7,420.3 346.9,418.5 347.0,416.9 347.2,414.7 347.4,412.6 347.5,410.6 347.7,409.3 347.8,408.1 347.9,406.4 348.0,405.0 348.1,403.0 348.3,400.7 348.4,399.2 348.5,397.6 348.6,395.7 348.6,394.1 348.7,393.1 348.8,391.5 348.9,389.5 348.9,388.0 349.0,386.3 349.1,384.4 349.2,382.7 349.2,380.4 349.3,379.3 349.4,377.3 349.5,376.2 349.6,374.4 349.8,372.6 350.0,369.5 350.3,367.9 350.7,366.4 351.2,366.2 351.7,366.2 352.3,367.5 353.0,369.3 353.8,371.5 354.2,373.6 354.6,375.3 355.1,377.3 355.5,379.2 356.0,380.9 356.4,382.6 356.8,384.3 357.2,386.4 357.7,388.0 358.1,389.8 358.5,391.6 358.9,393.6 359.4,395.1 359.8,396.5 360.7,399.3 361.6,401.6 362.4,403.5 363.3,404.8 364.2,404.9 365.0,404.6 365.8,403.6 366.7,402.3 367.6,401.0 368.4,398.6 369.3,396.4 370.2,394.2 371.1,392.1 371.9,390.3 372.8,387.8 373.6,385.0 373.9,383.5 374.2,381.6 374.5,380.0 374.8,377.5 375.1,375.8 375.4,373.6 375.8,372.1 376.3,370.1 377.0,368.4 377.6,366.6 378.4,364.9 379.2,363.5 380.0,362.2 380.9,360.3 381.7,358.8 382.5,357.3 383.3,356.5 384.1,355.0 385.6,352.2 387.2,349.8 388.8,347.4 390.4,345.4 392.0,342.9 393.5,340.6 395.1,338.7 396.7,337.1 398.2,335.2 399.7,333.0 401.3,331.4 402.9,329.7 404.4,327.2 406.0,325.6 407.6,323.8 409.2,321.9 410.8,320.4 412.3,319.0 413.9,317.4 415.4,316.0 416.8,314.0 418.3,312.3 420.0,311.0 422.0,309.9 424.3,309.4 426.7,308.8 429.0,308.1 431.2,308.4 433.5,308.0 435.8,308.3 438.0,308.5 440.2,308.2 442.5,308.5 444.7,308.4 447.0,308.1 449.3,308.3 451.6,308.3 453.9,308.2 456.2,308.1 458.6,308.0 461.0,307.8 463.3,307.8 465.3,307.6 466.9,306.8 468.2,306.0 469.4,305.2 470.7,303.5 472.0,301.6 473.4,299.6 474.7,297.4 476.1,295.0 477.5,292.4 478.2,290.8 479.0,289.6 479.7,287.8 480.4,286.4 481.0,285.1 481.6,284.1 482.1,282.6 482.7,281.0 483.2,279.3 483.6,278.2 484.5,275.4 485.2,273.1 485.8,271.1 486.3,269.7 486.7,268.6 487.0,268.2" fill="none" stroke="#ffa500" stroke-width="4.0" stroke-linejoin="round" stroke-linecap="butt" />
</g>
<rect x="52.5" y="54.5" width="188.0" height="383.0" fill="none" stroke="#808080" stroke-width="1"/>
<rect x="308.5" y="54.5" width="187.0" height="164.0" fill="none" stroke="#808080" stroke-width="1"/>
<rect x="308.5" y="273.5" width="187.0" height="164.0" fill="none" stroke="#808080" stroke-width="1"/>
<g stroke="#808080" stroke-width="1"><line x1="49.5" y1="437.4" x2="52.5" y2="437.4"/><line x1="49.5" y1="386.4" x2="52.5" y2="386.4"/><line x1="49.5" y1="335.4" x2="52.5" y2="335.4"/><line x1="49.5" y1="284.4" x2="52.5" y2="284.4"/><line x1="49.5" y1="233.4" x2="52.5" y2="233.4"/><line x1="49.5" y1="182.4" x2="52.5" y2="182.4"/><line x1="49.5" y1="131.4" x2="52.5" y2="131.4"/><line x1="49.5" y1="80.4" x2="52.5" y2="80.4"/><line x1="141.6" y1="437.5" x2="141.6" y2="440.5"/><line x1="240.3" y1="437.5" x2="240.3" y2="440.5"/><line x1="305.5" y1="218.8" x2="308.5" y2="218.8"/><line x1="305.5" y1="437.1" x2="308.5" y2="437.1"/><line x1="305.5" y1="185.9" x2="308.5" y2="185.9"/><line x1="305.5" y1="404.3" x2="308.5" y2="404.3"/><line x1="305.5" y1="153.1" x2="308.5" y2="153.1"/><line x1="305.5" y1="371.5" x2="308.5" y2="371.5"/><line x1="305.5" y1="120.2" x2="308.5" y2="120.2"/><line x1="305.5" y1="338.8" x2="308.5" y2="338.8"/><line x1="305.5" y1="87.4" x2="308.5" y2="87.4"/><line x1="305.5" y1="306.0" x2="308.5" y2="306.0"/><line x1="305.5" y1="54.5" x2="308.5" y2="54.5"/><line x1="305.5" y1="273.2" x2="308.5" y2="273.2"/><line x1="361.3" y1="218.5" x2="361.3" y2="221.5"/><line x1="361.3" y1="437.5" x2="361.3" y2="440.5"/><line x1="428.5" y1="218.5" x2="428.5" y2="221.5"/><line x1="428.5" y1="437.5" x2="428.5" y2="440.5"/><line x1="495.5" y1="218.5" x2="495.5" y2="221.5"/><line x1="495.5" y1="437.5" x2="495.5" y2="440.5"/></g>
<g fill="#000"><text x="47.5" y="443.2" font-size="15.6" text-anchor="end" >0</text><text x="47.5" y="392.2" font-size="15.6" text-anchor="end" >2</text><text x="47.5" y="341.2" font-size="15.6" text-anchor="end" >4</text><text x="47.5" y="290.2" font-size="15.6" text-anchor="end" >6</text><text x="47.5" y="239.2" font-size="15.6" text-anchor="end" >8</text><text x="47.5" y="188.2" font-size="15.6" text-anchor="end" >10</text><text x="47.5" y="137.2" font-size="15.6" text-anchor="end" >12</text><text x="47.5" y="86.2" font-size="15.6" text-anchor="end" >14</text><text x="141.6" y="454.6" font-size="15.6" text-anchor="middle" >1</text><text x="240.3" y="454.6" font-size="15.6" text-anchor="middle" >2</text><text x="303.0" y="224.6" font-size="15.6" text-anchor="end" >0</text><text x="303.0" y="442.9" font-size="15.6" text-anchor="end" >0</text><text x="303.0" y="191.7" font-size="15.6" text-anchor="end" >2</text><text x="303.0" y="410.1" font-size="15.6" text-anchor="end" >2</text><text x="303.0" y="158.9" font-size="15.6" text-anchor="end" >4</text><text x="303.0" y="377.3" font-size="15.6" text-anchor="end" >4</text><text x="303.0" y="126.0" font-size="15.6" text-anchor="end" >6</text><text x="303.0" y="344.6" font-size="15.6" text-anchor="end" >6</text><text x="303.0" y="93.2" font-size="15.6" text-anchor="end" >8</text><text x="303.0" y="311.8" font-size="15.6" text-anchor="end" >8</text><text x="303.0" y="60.3" font-size="15.6" text-anchor="end" >10</text><text x="303.0" y="279.0" font-size="15.6" text-anchor="end" >10</text><text x="361.3" y="236.4" font-size="15.6" text-anchor="middle" >0.5</text><text x="361.3" y="454.3" font-size="15.6" text-anchor="middle" >0.5</text><text x="428.5" y="236.4" font-size="15.6" text-anchor="middle" >1.0</text><text x="428.5" y="454.3" font-size="15.6" text-anchor="middle" >1.0</text><text x="495.5" y="236.4" font-size="15.6" text-anchor="middle" >1.5</text><text x="495.5" y="454.3" font-size="15.6" text-anchor="middle" >1.5</text><text x="136.9" y="425.9" font-size="15.6" text-anchor="middle" >0.3</text><text x="201.6" y="425.9" font-size="15.6" text-anchor="middle" >0.4</text><text x="57.3" y="95.8" font-size="15.6" text-anchor="start" font-weight="bold">A</text><text x="313.2" y="79.0" font-size="15.6" text-anchor="start" font-weight="bold">B</text><text x="313.2" y="297.5" font-size="15.6" text-anchor="start" font-weight="bold">C</text><text x="146.3" y="472.5" font-size="15.6" text-anchor="middle" >KAYAE salt-bridge distance [nm]</text><text x="402" y="254.3" font-size="15.6" text-anchor="middle">TYR <tspan font-style="italic">O</tspan><tspan font-size="10.9" font-style="italic" dy="2.6">&#951;</tspan><tspan dy="-2.6"> - LYS </tspan><tspan font-style="italic">N</tspan><tspan font-size="10.9" font-style="italic" dy="2.6">&#950;</tspan><tspan dy="-2.6"> distance [nm]</tspan></text><text x="402" y="472.3" font-size="15.6" text-anchor="middle">TYR <tspan font-style="italic">O</tspan><tspan font-size="10.9" font-style="italic" dy="2.6">&#951;</tspan><tspan dy="-2.6"> - GLU </tspan><tspan font-style="italic">C</tspan><tspan font-size="10.9" font-style="italic" dy="2.6">&#948;</tspan><tspan dy="-2.6"> distance [nm]</tspan></text><g transform="translate(17.4,312.6) rotate(-90)"><text x="0" y="0" font-size="15.9">free energy</text><path d="M101.9 -17.4 h-2.2 v23.8 h2.2" fill="none" stroke="#000" stroke-width="1.1"/><path d="M126.3 -17.4 h2.2 v23.8 h-2.2" fill="none" stroke="#000" stroke-width="1.1"/><line x1="104.3" y1="-3.6" x2="123.9" y2="-3.6" stroke="#000" stroke-width="0.9"/><text x="114.1" y="-8.6" font-size="11.5" text-anchor="middle">kJ</text><text x="114.1" y="6.2" font-size="11.5" text-anchor="middle">mol</text></g><g transform="translate(273.0,202.9) rotate(-90)"><text x="0" y="0" font-size="15.9">free energy</text><path d="M101.9 -17.4 h-2.2 v23.8 h2.2" fill="none" stroke="#000" stroke-width="1.1"/><path d="M126.3 -17.4 h2.2 v23.8 h-2.2" fill="none" stroke="#000" stroke-width="1.1"/><line x1="104.3" y1="-3.6" x2="123.9" y2="-3.6" stroke="#000" stroke-width="0.9"/><text x="114.1" y="-8.6" font-size="11.5" text-anchor="middle">kJ</text><text x="114.1" y="6.2" font-size="11.5" text-anchor="middle">mol</text></g><g transform="translate(273.0,421.4) rotate(-90)"><text x="0" y="0" font-size="15.9">free energy</text><path d="M101.9 -17.4 h-2.2 v23.8 h2.2" fill="none" stroke="#000" stroke-width="1.1"/><path d="M126.3 -17.4 h2.2 v23.8 h-2.2" fill="none" stroke="#000" stroke-width="1.1"/><line x1="104.3" y1="-3.6" x2="123.9" y2="-3.6" stroke="#000" stroke-width="0.9"/><text x="114.1" y="-8.6" font-size="11.5" text-anchor="middle">kJ</text><text x="114.1" y="6.2" font-size="11.5" text-anchor="middle">mol</text></g><text x="88.6" y="11.6" font-size="15.6" text-anchor="start" >Solvent Model:</text><text x="88.6" y="34.9" font-size="15.6" text-anchor="start" >TIP5P</text><text x="280.4" y="11.6" font-size="15.6" text-anchor="start" >TIP3P</text><text x="280.4" y="34.9" font-size="15.6" text-anchor="start" >GBNeck2</text><text x="427.2" y="11.6" font-size="15.6" text-anchor="start" >GNN</text></g>
<g stroke-width="2.7" stroke-linecap="butt"><line x1="43" y1="29.4" x2="77.3" y2="29.4" stroke="#000080"/><line x1="234.5" y1="5.8" x2="268.3" y2="5.8" stroke="#add8e6"/><line x1="234.5" y1="29.2" x2="268.3" y2="29.2" stroke="#800080"/><line x1="381.6" y1="6.3" x2="415.5" y2="6.3" stroke="#ffa500"/></g>
</svg>
</body></html>
